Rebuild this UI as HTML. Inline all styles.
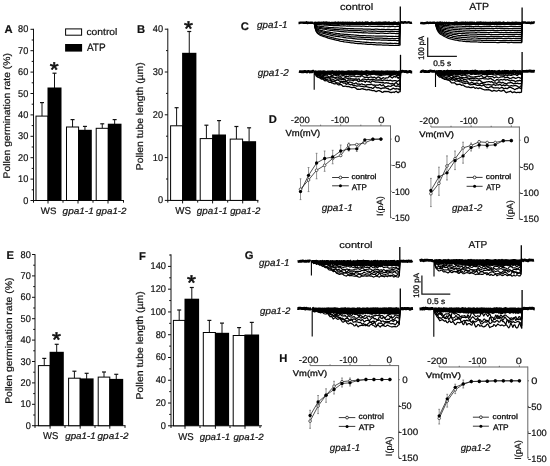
<!DOCTYPE html>
<html><head><meta charset="utf-8"><title>Figure</title>
<style>
html,body{margin:0;padding:0;background:#fff;}
svg{display:block;filter:blur(0.3px);}
text{font-family:"Liberation Sans", Arial, sans-serif;fill:#111;stroke:#111;stroke-width:0.2px;text-rendering:geometricPrecision;}
</style></head>
<body>
<svg width="550" height="466" viewBox="0 0 550 466">
<rect width="550" height="466" fill="#fff"/>
<line x1="33.5" y1="28.8" x2="33.5" y2="201" stroke="#111" stroke-width="1"/>
<line x1="30.5" y1="200.5" x2="33.5" y2="200.5" stroke="#111" stroke-width="1"/>
<text x="23.24" y="203.5" font-size="9.8" textLength="5.12" lengthAdjust="spacingAndGlyphs">0</text>
<line x1="30.5" y1="179.1" x2="33.5" y2="179.1" stroke="#111" stroke-width="1"/>
<text x="18.11" y="182.1" font-size="9.8" textLength="10.25" lengthAdjust="spacingAndGlyphs">10</text>
<line x1="30.5" y1="157.7" x2="33.5" y2="157.7" stroke="#111" stroke-width="1"/>
<text x="18.11" y="160.7" font-size="9.8" textLength="10.25" lengthAdjust="spacingAndGlyphs">20</text>
<line x1="30.5" y1="136.3" x2="33.5" y2="136.3" stroke="#111" stroke-width="1"/>
<text x="18.11" y="139.3" font-size="9.8" textLength="10.25" lengthAdjust="spacingAndGlyphs">30</text>
<line x1="30.5" y1="114.9" x2="33.5" y2="114.9" stroke="#111" stroke-width="1"/>
<text x="18.11" y="117.9" font-size="9.8" textLength="10.25" lengthAdjust="spacingAndGlyphs">40</text>
<line x1="30.5" y1="93.5" x2="33.5" y2="93.5" stroke="#111" stroke-width="1"/>
<text x="18.11" y="96.5" font-size="9.8" textLength="10.25" lengthAdjust="spacingAndGlyphs">50</text>
<line x1="30.5" y1="72.1" x2="33.5" y2="72.1" stroke="#111" stroke-width="1"/>
<text x="18.11" y="75.1" font-size="9.8" textLength="10.25" lengthAdjust="spacingAndGlyphs">60</text>
<line x1="30.5" y1="50.7" x2="33.5" y2="50.7" stroke="#111" stroke-width="1"/>
<text x="18.11" y="53.7" font-size="9.8" textLength="10.25" lengthAdjust="spacingAndGlyphs">70</text>
<line x1="30.5" y1="29.3" x2="33.5" y2="29.3" stroke="#111" stroke-width="1"/>
<text x="18.11" y="32.3" font-size="9.8" textLength="10.25" lengthAdjust="spacingAndGlyphs">80</text>
<line x1="31.7" y1="189.8" x2="33.5" y2="189.8" stroke="#111" stroke-width="1"/>
<line x1="31.7" y1="168.4" x2="33.5" y2="168.4" stroke="#111" stroke-width="1"/>
<line x1="31.7" y1="147" x2="33.5" y2="147" stroke="#111" stroke-width="1"/>
<line x1="31.7" y1="125.6" x2="33.5" y2="125.6" stroke="#111" stroke-width="1"/>
<line x1="31.7" y1="104.2" x2="33.5" y2="104.2" stroke="#111" stroke-width="1"/>
<line x1="31.7" y1="82.8" x2="33.5" y2="82.8" stroke="#111" stroke-width="1"/>
<line x1="31.7" y1="61.4" x2="33.5" y2="61.4" stroke="#111" stroke-width="1"/>
<line x1="31.7" y1="40" x2="33.5" y2="40" stroke="#111" stroke-width="1"/>
<line x1="33.5" y1="200.5" x2="124" y2="200.5" stroke="#111" stroke-width="1"/>
<line x1="48" y1="200.5" x2="48" y2="203.5" stroke="#111" stroke-width="1"/>
<line x1="78" y1="200.5" x2="78" y2="203.5" stroke="#111" stroke-width="1"/>
<line x1="108" y1="200.5" x2="108" y2="203.5" stroke="#111" stroke-width="1"/>
<line x1="63" y1="200.5" x2="63" y2="202.7" stroke="#111" stroke-width="1"/>
<line x1="93" y1="200.5" x2="93" y2="202.7" stroke="#111" stroke-width="1"/>
<line x1="123.5" y1="200.5" x2="123.5" y2="202.7" stroke="#111" stroke-width="1"/>
<line x1="33.5" y1="200.5" x2="33.5" y2="202.7" stroke="#111" stroke-width="1"/>
<line x1="42" y1="116.1" x2="42" y2="102.6" stroke="#111" stroke-width="1"/>
<line x1="40" y1="102.6" x2="44" y2="102.6" stroke="#111" stroke-width="1.2"/>
<rect x="36" y="116.1" width="12" height="84.4" fill="#fff" stroke="#000" stroke-width="1"/>
<line x1="54.5" y1="88" x2="54.5" y2="73.2" stroke="#111" stroke-width="1"/>
<line x1="52.5" y1="73.2" x2="56.5" y2="73.2" stroke="#111" stroke-width="1.2"/>
<rect x="47.5" y="87.5" width="14" height="113" fill="#000"/>
<line x1="72.55" y1="127" x2="72.55" y2="119.6" stroke="#111" stroke-width="1"/>
<line x1="70.55" y1="119.6" x2="74.55" y2="119.6" stroke="#111" stroke-width="1.2"/>
<rect x="66.5" y="127" width="12.1" height="73.5" fill="#fff" stroke="#000" stroke-width="1"/>
<line x1="84.95" y1="130.3" x2="84.95" y2="126.4" stroke="#111" stroke-width="1"/>
<line x1="82.95" y1="126.4" x2="86.95" y2="126.4" stroke="#111" stroke-width="1.2"/>
<rect x="78.1" y="129.8" width="13.7" height="70.7" fill="#000"/>
<line x1="102.25" y1="128.3" x2="102.25" y2="123.8" stroke="#111" stroke-width="1"/>
<line x1="100.25" y1="123.8" x2="104.25" y2="123.8" stroke="#111" stroke-width="1.2"/>
<rect x="96.2" y="128.3" width="12.1" height="72.2" fill="#fff" stroke="#000" stroke-width="1"/>
<line x1="114.65" y1="124.2" x2="114.65" y2="119.6" stroke="#111" stroke-width="1"/>
<line x1="112.65" y1="119.6" x2="116.65" y2="119.6" stroke="#111" stroke-width="1.2"/>
<rect x="107.8" y="123.7" width="13.7" height="76.8" fill="#000"/>
<text x="40.86" y="213.8" font-size="9.31" textLength="15.59" lengthAdjust="spacingAndGlyphs">WS</text>
<text x="62.58" y="213.8" font-size="9.16" font-style="italic" textLength="31.17" lengthAdjust="spacingAndGlyphs">gpa1-1</text>
<text x="96.08" y="213.8" font-size="9.02" font-style="italic" textLength="30.46" lengthAdjust="spacingAndGlyphs">gpa1-2</text>
<text transform="translate(10.3,177.6) rotate(-90)" x="-0.85" y="0" font-size="9.6" textLength="125.39" lengthAdjust="spacingAndGlyphs">Pollen germination rate (%)</text>
<text x="4.62" y="32.8" font-size="11.2" font-weight="bold" textLength="8.09" lengthAdjust="spacingAndGlyphs">A</text>
<text x="49.72" y="77.49" font-size="21.5" textLength="8.95" lengthAdjust="spacingAndGlyphs" style="stroke-width:0.55px">*</text>
<line x1="167.8" y1="28.6" x2="167.8" y2="200.9" stroke="#111" stroke-width="1"/>
<line x1="164.8" y1="200.4" x2="167.8" y2="200.4" stroke="#111" stroke-width="1"/>
<text x="157.94" y="203.4" font-size="9.8" textLength="5.12" lengthAdjust="spacingAndGlyphs">0</text>
<line x1="164.8" y1="157.6" x2="167.8" y2="157.6" stroke="#111" stroke-width="1"/>
<text x="152.81" y="160.6" font-size="9.8" textLength="10.25" lengthAdjust="spacingAndGlyphs">10</text>
<line x1="164.8" y1="114.8" x2="167.8" y2="114.8" stroke="#111" stroke-width="1"/>
<text x="152.81" y="117.8" font-size="9.8" textLength="10.25" lengthAdjust="spacingAndGlyphs">20</text>
<line x1="164.8" y1="72" x2="167.8" y2="72" stroke="#111" stroke-width="1"/>
<text x="152.81" y="75" font-size="9.8" textLength="10.25" lengthAdjust="spacingAndGlyphs">30</text>
<line x1="164.8" y1="29.2" x2="167.8" y2="29.2" stroke="#111" stroke-width="1"/>
<text x="152.81" y="32.2" font-size="9.8" textLength="10.25" lengthAdjust="spacingAndGlyphs">40</text>
<line x1="166" y1="179" x2="167.8" y2="179" stroke="#111" stroke-width="1"/>
<line x1="166" y1="136.2" x2="167.8" y2="136.2" stroke="#111" stroke-width="1"/>
<line x1="166" y1="93.4" x2="167.8" y2="93.4" stroke="#111" stroke-width="1"/>
<line x1="166" y1="50.6" x2="167.8" y2="50.6" stroke="#111" stroke-width="1"/>
<line x1="167.8" y1="200.4" x2="258.4" y2="200.4" stroke="#111" stroke-width="1"/>
<line x1="182.6" y1="200.4" x2="182.6" y2="203.4" stroke="#111" stroke-width="1"/>
<line x1="212.6" y1="200.4" x2="212.6" y2="203.4" stroke="#111" stroke-width="1"/>
<line x1="242.7" y1="200.4" x2="242.7" y2="203.4" stroke="#111" stroke-width="1"/>
<line x1="197.7" y1="200.4" x2="197.7" y2="202.6" stroke="#111" stroke-width="1"/>
<line x1="227.7" y1="200.4" x2="227.7" y2="202.6" stroke="#111" stroke-width="1"/>
<line x1="257.8" y1="200.4" x2="257.8" y2="202.6" stroke="#111" stroke-width="1"/>
<line x1="167.8" y1="200.4" x2="167.8" y2="202.6" stroke="#111" stroke-width="1"/>
<line x1="176.6" y1="125.8" x2="176.6" y2="107.7" stroke="#111" stroke-width="1"/>
<line x1="174.6" y1="107.7" x2="178.6" y2="107.7" stroke="#111" stroke-width="1.2"/>
<rect x="170.6" y="125.8" width="12" height="74.6" fill="#fff" stroke="#000" stroke-width="1"/>
<line x1="189.25" y1="53.3" x2="189.25" y2="31.5" stroke="#111" stroke-width="1"/>
<line x1="187.25" y1="31.5" x2="191.25" y2="31.5" stroke="#111" stroke-width="1.2"/>
<rect x="182.1" y="52.8" width="14.3" height="147.6" fill="#000"/>
<line x1="206.4" y1="138.6" x2="206.4" y2="125.2" stroke="#111" stroke-width="1"/>
<line x1="204.4" y1="125.2" x2="208.4" y2="125.2" stroke="#111" stroke-width="1.2"/>
<rect x="200.2" y="138.6" width="12.4" height="61.8" fill="#fff" stroke="#000" stroke-width="1"/>
<line x1="219.05" y1="135" x2="219.05" y2="120.6" stroke="#111" stroke-width="1"/>
<line x1="217.05" y1="120.6" x2="221.05" y2="120.6" stroke="#111" stroke-width="1.2"/>
<rect x="212.1" y="134.5" width="13.9" height="65.9" fill="#000"/>
<line x1="236.4" y1="139.1" x2="236.4" y2="126.5" stroke="#111" stroke-width="1"/>
<line x1="234.4" y1="126.5" x2="238.4" y2="126.5" stroke="#111" stroke-width="1.2"/>
<rect x="230.2" y="139.1" width="12.4" height="61.3" fill="#fff" stroke="#000" stroke-width="1"/>
<line x1="249.1" y1="141.7" x2="249.1" y2="127.8" stroke="#111" stroke-width="1"/>
<line x1="247.1" y1="127.8" x2="251.1" y2="127.8" stroke="#111" stroke-width="1.2"/>
<rect x="242.1" y="141.2" width="14" height="59.2" fill="#000"/>
<text x="175.16" y="213.6" font-size="10.17" textLength="15.79" lengthAdjust="spacingAndGlyphs">WS</text>
<text x="196.88" y="213.5" font-size="9.59" font-style="italic" textLength="30.65" lengthAdjust="spacingAndGlyphs">gpa1-1</text>
<text x="230.18" y="213.5" font-size="9.45" font-style="italic" textLength="30.16" lengthAdjust="spacingAndGlyphs">gpa1-2</text>
<text transform="translate(143.2,169.3) rotate(-90)" x="-0.85" y="0" font-size="9.8" textLength="107.9" lengthAdjust="spacingAndGlyphs">Pollen tube length (µm)</text>
<text x="136.95" y="32.7" font-size="11.2" font-weight="bold" textLength="8.09" lengthAdjust="spacingAndGlyphs">B</text>
<text x="184.12" y="36.39" font-size="21.5" textLength="8.95" lengthAdjust="spacingAndGlyphs" style="stroke-width:0.55px">*</text>
<line x1="35" y1="254.2" x2="35" y2="426.2" stroke="#111" stroke-width="1"/>
<line x1="32" y1="425.7" x2="35" y2="425.7" stroke="#111" stroke-width="1"/>
<text x="25.74" y="428.7" font-size="9.8" textLength="5.12" lengthAdjust="spacingAndGlyphs">0</text>
<line x1="32" y1="404.3" x2="35" y2="404.3" stroke="#111" stroke-width="1"/>
<text x="20.61" y="407.3" font-size="9.8" textLength="10.25" lengthAdjust="spacingAndGlyphs">10</text>
<line x1="32" y1="382.9" x2="35" y2="382.9" stroke="#111" stroke-width="1"/>
<text x="20.61" y="385.9" font-size="9.8" textLength="10.25" lengthAdjust="spacingAndGlyphs">20</text>
<line x1="32" y1="361.5" x2="35" y2="361.5" stroke="#111" stroke-width="1"/>
<text x="20.61" y="364.5" font-size="9.8" textLength="10.25" lengthAdjust="spacingAndGlyphs">30</text>
<line x1="32" y1="340.1" x2="35" y2="340.1" stroke="#111" stroke-width="1"/>
<text x="20.61" y="343.1" font-size="9.8" textLength="10.25" lengthAdjust="spacingAndGlyphs">40</text>
<line x1="32" y1="318.7" x2="35" y2="318.7" stroke="#111" stroke-width="1"/>
<text x="20.61" y="321.7" font-size="9.8" textLength="10.25" lengthAdjust="spacingAndGlyphs">50</text>
<line x1="32" y1="297.3" x2="35" y2="297.3" stroke="#111" stroke-width="1"/>
<text x="20.61" y="300.3" font-size="9.8" textLength="10.25" lengthAdjust="spacingAndGlyphs">60</text>
<line x1="32" y1="275.9" x2="35" y2="275.9" stroke="#111" stroke-width="1"/>
<text x="20.61" y="278.9" font-size="9.8" textLength="10.25" lengthAdjust="spacingAndGlyphs">70</text>
<line x1="32" y1="254.5" x2="35" y2="254.5" stroke="#111" stroke-width="1"/>
<text x="20.61" y="257.5" font-size="9.8" textLength="10.25" lengthAdjust="spacingAndGlyphs">80</text>
<line x1="33.2" y1="415" x2="35" y2="415" stroke="#111" stroke-width="1"/>
<line x1="33.2" y1="393.6" x2="35" y2="393.6" stroke="#111" stroke-width="1"/>
<line x1="33.2" y1="372.2" x2="35" y2="372.2" stroke="#111" stroke-width="1"/>
<line x1="33.2" y1="350.8" x2="35" y2="350.8" stroke="#111" stroke-width="1"/>
<line x1="33.2" y1="329.4" x2="35" y2="329.4" stroke="#111" stroke-width="1"/>
<line x1="33.2" y1="308" x2="35" y2="308" stroke="#111" stroke-width="1"/>
<line x1="33.2" y1="286.6" x2="35" y2="286.6" stroke="#111" stroke-width="1"/>
<line x1="33.2" y1="265.2" x2="35" y2="265.2" stroke="#111" stroke-width="1"/>
<line x1="35" y1="425.7" x2="125.5" y2="425.7" stroke="#111" stroke-width="1"/>
<line x1="50.1" y1="425.7" x2="50.1" y2="428.7" stroke="#111" stroke-width="1"/>
<line x1="80.2" y1="425.7" x2="80.2" y2="428.7" stroke="#111" stroke-width="1"/>
<line x1="109.8" y1="425.7" x2="109.8" y2="428.7" stroke="#111" stroke-width="1"/>
<line x1="65" y1="425.7" x2="65" y2="427.9" stroke="#111" stroke-width="1"/>
<line x1="95" y1="425.7" x2="95" y2="427.9" stroke="#111" stroke-width="1"/>
<line x1="125" y1="425.7" x2="125" y2="427.9" stroke="#111" stroke-width="1"/>
<line x1="35" y1="425.7" x2="35" y2="427.9" stroke="#111" stroke-width="1"/>
<line x1="44.25" y1="365.6" x2="44.25" y2="358.4" stroke="#111" stroke-width="1"/>
<line x1="42.25" y1="358.4" x2="46.25" y2="358.4" stroke="#111" stroke-width="1.2"/>
<rect x="38.4" y="365.6" width="11.7" height="60.1" fill="#fff" stroke="#000" stroke-width="1"/>
<line x1="56.7" y1="352.3" x2="56.7" y2="344.3" stroke="#111" stroke-width="1"/>
<line x1="54.7" y1="344.3" x2="58.7" y2="344.3" stroke="#111" stroke-width="1.2"/>
<rect x="49.6" y="351.8" width="14.2" height="73.9" fill="#000"/>
<line x1="74.4" y1="378.2" x2="74.4" y2="371.2" stroke="#111" stroke-width="1"/>
<line x1="72.4" y1="371.2" x2="76.4" y2="371.2" stroke="#111" stroke-width="1.2"/>
<rect x="68.6" y="378.2" width="11.6" height="47.5" fill="#fff" stroke="#000" stroke-width="1"/>
<line x1="86.65" y1="378.9" x2="86.65" y2="373.3" stroke="#111" stroke-width="1"/>
<line x1="84.65" y1="373.3" x2="88.65" y2="373.3" stroke="#111" stroke-width="1.2"/>
<rect x="79.7" y="378.4" width="13.9" height="47.3" fill="#000"/>
<line x1="104" y1="377.1" x2="104" y2="372" stroke="#111" stroke-width="1"/>
<line x1="102" y1="372" x2="106" y2="372" stroke="#111" stroke-width="1.2"/>
<rect x="98.2" y="377.1" width="11.6" height="48.6" fill="#fff" stroke="#000" stroke-width="1"/>
<line x1="116.25" y1="379.4" x2="116.25" y2="374.3" stroke="#111" stroke-width="1"/>
<line x1="114.25" y1="374.3" x2="118.25" y2="374.3" stroke="#111" stroke-width="1.2"/>
<rect x="109.3" y="378.9" width="13.9" height="46.8" fill="#000"/>
<text x="42.96" y="439.3" font-size="9.88" textLength="15.28" lengthAdjust="spacingAndGlyphs">WS</text>
<text x="65.28" y="439.3" font-size="9.3" font-style="italic" textLength="30.34" lengthAdjust="spacingAndGlyphs">gpa1-1</text>
<text x="97.58" y="439.3" font-size="9.17" font-style="italic" textLength="30.97" lengthAdjust="spacingAndGlyphs">gpa1-2</text>
<text transform="translate(12.4,403) rotate(-90)" x="-0.86" y="0" font-size="9.6" textLength="126.3" lengthAdjust="spacingAndGlyphs">Pollen germination rate (%)</text>
<text x="6.45" y="258.7" font-size="11.2" font-weight="bold" textLength="7.47" lengthAdjust="spacingAndGlyphs">E</text>
<text x="52.02" y="347.29" font-size="21.5" textLength="8.95" lengthAdjust="spacingAndGlyphs" style="stroke-width:0.55px">*</text>
<line x1="171" y1="254.3" x2="171" y2="426.3" stroke="#111" stroke-width="1"/>
<line x1="168" y1="425.8" x2="171" y2="425.8" stroke="#111" stroke-width="1"/>
<text x="160.84" y="428.8" font-size="9.8" textLength="5.12" lengthAdjust="spacingAndGlyphs">0</text>
<line x1="168" y1="403.03" x2="171" y2="403.03" stroke="#111" stroke-width="1"/>
<text x="155.71" y="406.03" font-size="9.8" textLength="10.25" lengthAdjust="spacingAndGlyphs">20</text>
<line x1="168" y1="380.26" x2="171" y2="380.26" stroke="#111" stroke-width="1"/>
<text x="155.71" y="383.26" font-size="9.8" textLength="10.25" lengthAdjust="spacingAndGlyphs">40</text>
<line x1="168" y1="357.49" x2="171" y2="357.49" stroke="#111" stroke-width="1"/>
<text x="155.71" y="360.49" font-size="9.8" textLength="10.25" lengthAdjust="spacingAndGlyphs">60</text>
<line x1="168" y1="334.72" x2="171" y2="334.72" stroke="#111" stroke-width="1"/>
<text x="155.71" y="337.72" font-size="9.8" textLength="10.25" lengthAdjust="spacingAndGlyphs">80</text>
<line x1="168" y1="311.95" x2="171" y2="311.95" stroke="#111" stroke-width="1"/>
<text x="150.59" y="314.95" font-size="9.8" textLength="15.37" lengthAdjust="spacingAndGlyphs">100</text>
<line x1="168" y1="289.18" x2="171" y2="289.18" stroke="#111" stroke-width="1"/>
<text x="150.59" y="292.18" font-size="9.8" textLength="15.37" lengthAdjust="spacingAndGlyphs">120</text>
<line x1="168" y1="266.41" x2="171" y2="266.41" stroke="#111" stroke-width="1"/>
<text x="150.59" y="269.41" font-size="9.8" textLength="15.37" lengthAdjust="spacingAndGlyphs">140</text>
<line x1="169.2" y1="414.42" x2="171" y2="414.42" stroke="#111" stroke-width="1"/>
<line x1="169.2" y1="391.64" x2="171" y2="391.64" stroke="#111" stroke-width="1"/>
<line x1="169.2" y1="368.88" x2="171" y2="368.88" stroke="#111" stroke-width="1"/>
<line x1="169.2" y1="346.11" x2="171" y2="346.11" stroke="#111" stroke-width="1"/>
<line x1="169.2" y1="323.34" x2="171" y2="323.34" stroke="#111" stroke-width="1"/>
<line x1="169.2" y1="300.56" x2="171" y2="300.56" stroke="#111" stroke-width="1"/>
<line x1="169.2" y1="277.8" x2="171" y2="277.8" stroke="#111" stroke-width="1"/>
<line x1="169.2" y1="255.03" x2="171" y2="255.03" stroke="#111" stroke-width="1"/>
<line x1="171" y1="425.8" x2="262" y2="425.8" stroke="#111" stroke-width="1"/>
<line x1="185" y1="425.8" x2="185" y2="428.8" stroke="#111" stroke-width="1"/>
<line x1="215.4" y1="425.8" x2="215.4" y2="428.8" stroke="#111" stroke-width="1"/>
<line x1="245" y1="425.8" x2="245" y2="428.8" stroke="#111" stroke-width="1"/>
<line x1="200" y1="425.8" x2="200" y2="428" stroke="#111" stroke-width="1"/>
<line x1="230" y1="425.8" x2="230" y2="428" stroke="#111" stroke-width="1"/>
<line x1="260" y1="425.8" x2="260" y2="428" stroke="#111" stroke-width="1"/>
<line x1="171" y1="425.8" x2="171" y2="428" stroke="#111" stroke-width="1"/>
<line x1="179.2" y1="320.4" x2="179.2" y2="310" stroke="#111" stroke-width="1"/>
<line x1="177.2" y1="310" x2="181.2" y2="310" stroke="#111" stroke-width="1.2"/>
<rect x="173.4" y="320.4" width="11.6" height="105.4" fill="#fff" stroke="#000" stroke-width="1"/>
<line x1="191.8" y1="299.2" x2="191.8" y2="287.5" stroke="#111" stroke-width="1"/>
<line x1="189.8" y1="287.5" x2="193.8" y2="287.5" stroke="#111" stroke-width="1.2"/>
<rect x="184.5" y="298.7" width="14.6" height="127.1" fill="#000"/>
<line x1="209.35" y1="332.5" x2="209.35" y2="320.4" stroke="#111" stroke-width="1"/>
<line x1="207.35" y1="320.4" x2="211.35" y2="320.4" stroke="#111" stroke-width="1.2"/>
<rect x="203.3" y="332.5" width="12.1" height="93.3" fill="#fff" stroke="#000" stroke-width="1"/>
<line x1="222" y1="333.3" x2="222" y2="323.1" stroke="#111" stroke-width="1"/>
<line x1="220" y1="323.1" x2="224" y2="323.1" stroke="#111" stroke-width="1.2"/>
<rect x="214.9" y="332.8" width="14.2" height="93" fill="#000"/>
<line x1="239.1" y1="335.5" x2="239.1" y2="327.6" stroke="#111" stroke-width="1"/>
<line x1="237.1" y1="327.6" x2="241.1" y2="327.6" stroke="#111" stroke-width="1.2"/>
<rect x="233.2" y="335.5" width="11.8" height="90.3" fill="#fff" stroke="#000" stroke-width="1"/>
<line x1="251.8" y1="335" x2="251.8" y2="322.4" stroke="#111" stroke-width="1"/>
<line x1="249.8" y1="322.4" x2="253.8" y2="322.4" stroke="#111" stroke-width="1.2"/>
<rect x="244.5" y="334.5" width="14.6" height="91.3" fill="#000"/>
<text x="178.26" y="439.5" font-size="9.88" textLength="15.48" lengthAdjust="spacingAndGlyphs">WS</text>
<text x="199.78" y="439.5" font-size="9.45" font-style="italic" textLength="30.34" lengthAdjust="spacingAndGlyphs">gpa1-1</text>
<text x="233.48" y="439.6" font-size="9.02" font-style="italic" textLength="30.26" lengthAdjust="spacingAndGlyphs">gpa1-2</text>
<text transform="translate(142.8,398.6) rotate(-90)" x="-0.86" y="0" font-size="9.8" textLength="108.1" lengthAdjust="spacingAndGlyphs">Pollen tube length (µm)</text>
<text x="138.95" y="259.5" font-size="11.2" font-weight="bold" textLength="6.84" lengthAdjust="spacingAndGlyphs">F</text>
<text x="187.12" y="289.89" font-size="21.5" textLength="8.95" lengthAdjust="spacingAndGlyphs" style="stroke-width:0.55px">*</text>
<rect x="65.6" y="28.9" width="16" height="6.3" fill="#fff" stroke="#000" stroke-width="1"/>
<rect x="65.1" y="44" width="17" height="7.6" fill="#000"/>
<text x="86.46" y="34.8" font-size="9.52" textLength="30.93" lengthAdjust="spacingAndGlyphs">control</text>
<text x="86.88" y="50.8" font-size="10.76" textLength="18.73" lengthAdjust="spacingAndGlyphs">ATP</text>
<path d="M298.5,23 299.5,23 300.5,22.6 301.5,22.6 302.5,22.6 303.5,22.8 304.5,22.7 305.5,22.9 306.5,22.2 307.5,23.1 308.5,22.7 309.5,22.9 310.5,22.7 311.5,22.6 312.5,22.8 313.5,22.9" fill="none" stroke="#000" stroke-width="2.4" stroke-linejoin="round"/>
<path d="M400,22.9 401,22.5 402,22.3 403,22.8 404,22.5 405,22.2 406,22.5 407,22.6 408,22.4 409,22.3 410,22.7 411,22.9 412,22.6" fill="none" stroke="#000" stroke-width="2.4" stroke-linejoin="round"/>
<path d="M314.2,21.7 315.2,21.5 316.2,21.7 317.2,21.8 318.2,21.6 319.2,21.4 320.2,21.7 321.2,21.6 322.2,21.8 323.2,21.3 324.2,21.5 325.2,21.4 326.2,21.3 327.2,21.6 328.2,21.7 329.2,21.5 330.2,21.9 331.2,21.8 332.2,21.7 333.2,21.7 334.2,21.8 335.2,21.3 336.2,21.7 337.2,21.7 338.2,21.2 339.2,21.7 340.2,21.5 341.2,21.8 342.2,21.5 343.2,21.6 344.2,21.7 345.2,21.4 346.2,21.7 347.2,21.6 348.2,21.7 349.2,21.5 350.2,21.8 351.2,21.7 352.2,21.6 353.2,21.7 354.2,21.9 355.2,22 356.2,21.3 357.2,21.8 358.2,21.7 359.2,21.6 360.2,21.4 361.2,21.9 362.2,21.3 363.2,21.7 364.2,21.9 365.2,21.3 366.2,21.5 367.2,21.3 368.2,21.6 369.2,21.9 370.2,22 371.2,21.2 372.2,21.5 373.2,21.7 374.2,21.9 375.2,21.7 376.2,21.5 377.2,21.7 378.2,21.6 379.2,21.6 380.2,21.5 381.2,21.7 382.2,21.7 383.2,21.6 384.2,21.6 385.2,21.3 386.2,21.5 387.2,21.8 388.2,21.6 389.2,21.3 390.2,21.9 391.2,21.7 392.2,22 393.2,21.6 394.2,21.5 395.2,21.3 396.2,21.9 397.2,22.1 398.2,21.4 399.2,21.5 399.2,24.9 398.2,25.1 397.2,24.9 396.2,25 395.2,25.1 394.2,24.9 393.2,24.3 392.2,25 391.2,25 390.2,24.3 389.2,25.4 388.2,24.3 387.2,24.8 386.2,24.4 385.2,24.8 384.2,25.3 383.2,24.5 382.2,24.4 381.2,24.6 380.2,24.9 379.2,24.6 378.2,24.7 377.2,24.5 376.2,24.5 375.2,25.1 374.2,24.3 373.2,25 372.2,24.8 371.2,24.9 370.2,24.6 369.2,24.7 368.2,24.6 367.2,24.8 366.2,24.9 365.2,24.9 364.2,25.1 363.2,25 362.2,24.6 361.2,24.8 360.2,24.5 359.2,24.7 358.2,24.3 357.2,24.9 356.2,24.9 355.2,25 354.2,25 353.2,25 352.2,24.9 351.2,24.5 350.2,25.5 349.2,25.4 348.2,25.1 347.2,25.5 346.2,24.5 345.2,24.6 344.2,25 343.2,25.2 342.2,24.9 341.2,24.8 340.2,24.1 339.2,24.7 338.2,24.9 337.2,24.8 336.2,24.6 335.2,24.4 334.2,24.6 333.2,24.5 332.2,24.6 331.2,24.8 330.2,25.2 329.2,25.1 328.2,25.3 327.2,25 326.2,25 325.2,24.6 324.2,25.1 323.2,24.3 322.2,24.1 321.2,24.9 320.2,24.7 319.2,25.1 318.2,24.8 317.2,25.2 316.2,24.9 315.2,24.7 314.2,24.7Z" fill="#000"/>
<line x1="314.2" y1="22.7" x2="314.2" y2="24.5" stroke="#000" stroke-width="1.1"/>
<line x1="400.3" y1="22.7" x2="400.3" y2="6.5" stroke="#000" stroke-width="1.3"/>
<path d="M314.2,22.7 315.2,23.1 316.2,23.3 317.2,23.6 318.2,23.7 319.2,23.7 320.2,23.7 321.2,23.7 322.2,23.7 323.2,23.8 324.2,23.7 325.2,23.8 326.2,23.7 327.2,23.8 328.2,23.8 329.2,23.8 330.2,23.8 331.2,23.9 332.2,24.1 333.2,24.1 334.2,24.2 335.2,24.1 336.2,24 337.2,24 338.2,24.1 339.2,24.1 340.2,24.2 341.2,24.2 342.2,24.2 343.2,24.1 344.2,24.1 345.2,24.1 346.2,24.2 347.2,24.3 348.2,24.3 349.2,24.4 350.2,24.4 351.2,24.3 352.2,24.4 353.2,24.4 354.2,24.4 355.2,24.4 356.2,24.4 357.2,24.5 358.2,24.4 359.2,24.4 360.2,24.4 361.2,24.5 362.2,24.4 363.2,24.4 364.2,24.4 365.2,24.4 366.2,24.4 367.2,24.4 368.2,24.4 369.2,24.4 370.2,24.4 371.2,24.4 372.2,24.4 373.2,24.4 374.2,24.3 375.2,24.3 376.2,24.4 377.2,24.5 378.2,24.5 379.2,24.5 380.2,24.5 381.2,24.5 382.2,24.5 383.2,24.5 384.2,24.5 385.2,24.5 386.2,24.4 387.2,24.5 388.2,24.5 389.2,24.5 390.2,24.5 391.2,24.5 392.2,24.5 393.2,24.5 394.2,24.5 395.2,24.4 396.2,24.5 397.2,24.5 398.2,24.5 399.2,24.4 400.3,22.7" fill="none" stroke="#000" stroke-width="1.25" stroke-linejoin="round"/>
<path d="M314.2,22.7 315.2,23.6 316.2,24.2 317.2,24.3 318.2,24.5 319.2,24.6 320.2,24.7 321.2,24.9 322.2,24.9 323.2,25 324.2,25.1 325.2,25.2 326.2,25.2 327.2,25.1 328.2,25.2 329.2,25.3 330.2,25.4 331.2,25.4 332.2,25.4 333.2,25.6 334.2,25.7 335.2,25.6 336.2,25.5 337.2,25.5 338.2,25.7 339.2,25.7 340.2,25.8 341.2,25.9 342.2,26 343.2,25.9 344.2,25.9 345.2,25.9 346.2,26 347.2,26 348.2,26 349.2,26.1 350.2,26.1 351.2,26.1 352.2,26 353.2,26 354.2,26 355.2,26 356.2,26 357.2,26.1 358.2,26.2 359.2,26.2 360.2,26.2 361.2,26.3 362.2,26.2 363.2,26.1 364.2,26.2 365.2,26.3 366.2,26.4 367.2,26.5 368.2,26.4 369.2,26.2 370.2,26.2 371.2,26.3 372.2,26.4 373.2,26.4 374.2,26.4 375.2,26.3 376.2,26.3 377.2,26.3 378.2,26.4 379.2,26.4 380.2,26.4 381.2,26.4 382.2,26.4 383.2,26.5 384.2,26.5 385.2,26.5 386.2,26.4 387.2,26.5 388.2,26.5 389.2,26.6 390.2,26.5 391.2,26.5 392.2,26.4 393.2,26.4 394.2,26.5 395.2,26.5 396.2,26.5 397.2,26.4 398.2,26.4 399.2,26.5 400.3,22.7" fill="none" stroke="#000" stroke-width="1.25" stroke-linejoin="round"/>
<path d="M314.2,22.7 315.2,24.6 316.2,25.4 317.2,25.8 318.2,26 319.2,26.2 320.2,26.4 321.2,26.5 322.2,26.6 323.2,26.7 324.2,26.9 325.2,27 326.2,27.1 327.2,27.2 328.2,27.3 329.2,27.5 330.2,27.6 331.2,27.6 332.2,27.6 333.2,27.7 334.2,27.8 335.2,27.9 336.2,27.9 337.2,27.9 338.2,27.9 339.2,28 340.2,28.1 341.2,28.1 342.2,28.2 343.2,28.3 344.2,28.3 345.2,28.4 346.2,28.5 347.2,28.6 348.2,28.7 349.2,28.6 350.2,28.7 351.2,28.6 352.2,28.6 353.2,28.7 354.2,28.8 355.2,28.9 356.2,28.8 357.2,28.8 358.2,28.8 359.2,28.9 360.2,28.9 361.2,28.9 362.2,28.9 363.2,29.1 364.2,29.2 365.2,29.2 366.2,29.1 367.2,29.1 368.2,29.1 369.2,29.2 370.2,29.2 371.2,29.3 372.2,29.3 373.2,29.3 374.2,29.3 375.2,29.2 376.2,29.2 377.2,29.2 378.2,29.4 379.2,29.4 380.2,29.5 381.2,29.4 382.2,29.3 383.2,29.3 384.2,29.4 385.2,29.5 386.2,29.5 387.2,29.4 388.2,29.4 389.2,29.4 390.2,29.5 391.2,29.5 392.2,29.5 393.2,29.5 394.2,29.4 395.2,29.4 396.2,29.5 397.2,29.5 398.2,29.5 399.2,29.5 400.3,22.7" fill="none" stroke="#000" stroke-width="1.25" stroke-linejoin="round"/>
<path d="M314.2,22.7 315.2,25 316.2,26.1 317.2,26.7 318.2,27 319.2,27.3 320.2,27.5 321.2,27.6 322.2,27.8 323.2,28 324.2,28.2 325.2,28.3 326.2,28.3 327.2,28.4 328.2,28.5 329.2,28.7 330.2,28.8 331.2,29 332.2,29.1 333.2,29.2 334.2,29.3 335.2,29.4 336.2,29.5 337.2,29.5 338.2,29.6 339.2,29.7 340.2,29.8 341.2,29.8 342.2,29.9 343.2,29.9 344.2,30.1 345.2,30 346.2,30.1 347.2,30.2 348.2,30.4 349.2,30.5 350.2,30.4 351.2,30.4 352.2,30.4 353.2,30.4 354.2,30.6 355.2,30.6 356.2,30.7 357.2,30.7 358.2,30.7 359.2,30.7 360.2,30.7 361.2,30.8 362.2,30.9 363.2,31 364.2,31 365.2,31 366.2,31 367.2,30.9 368.2,31 369.2,31 370.2,31.1 371.2,31.2 372.2,31.3 373.2,31.2 374.2,31.2 375.2,31.2 376.2,31.2 377.2,31.3 378.2,31.3 379.2,31.3 380.2,31.3 381.2,31.3 382.2,31.3 383.2,31.4 384.2,31.4 385.2,31.4 386.2,31.3 387.2,31.3 388.2,31.3 389.2,31.3 390.2,31.3 391.2,31.3 392.2,31.3 393.2,31.4 394.2,31.4 395.2,31.4 396.2,31.5 397.2,31.5 398.2,31.6 399.2,31.6 400.3,22.7" fill="none" stroke="#000" stroke-width="1.25" stroke-linejoin="round"/>
<path d="M314.2,22.7 315.2,25.5 316.2,26.8 317.2,27.6 318.2,28.1 319.2,28.4 320.2,28.5 321.2,28.7 322.2,28.8 323.2,29.1 324.2,29.2 325.2,29.3 326.2,29.5 327.2,29.8 328.2,30 329.2,30.2 330.2,30.3 331.2,30.4 332.2,30.5 333.2,30.7 334.2,30.8 335.2,30.9 336.2,31 337.2,31.1 338.2,31.2 339.2,31.4 340.2,31.5 341.2,31.6 342.2,31.6 343.2,31.7 344.2,31.8 345.2,31.8 346.2,31.9 347.2,32 348.2,32.1 349.2,32.2 350.2,32.2 351.2,32.1 352.2,32.2 353.2,32.2 354.2,32.4 355.2,32.3 356.2,32.4 357.2,32.4 358.2,32.6 359.2,32.6 360.2,32.7 361.2,32.6 362.2,32.8 363.2,32.7 364.2,32.8 365.2,32.8 366.2,32.9 367.2,32.9 368.2,33 369.2,33 370.2,33 371.2,33 372.2,33 373.2,33.1 374.2,33.1 375.2,33.1 376.2,33.3 377.2,33.3 378.2,33.3 379.2,33.3 380.2,33.2 381.2,33.2 382.2,33.1 383.2,33.2 384.2,33.3 385.2,33.4 386.2,33.5 387.2,33.4 388.2,33.3 389.2,33.2 390.2,33.2 391.2,33.4 392.2,33.4 393.2,33.4 394.2,33.4 395.2,33.5 396.2,33.5 397.2,33.5 398.2,33.5 399.2,33.5 400.3,22.7" fill="none" stroke="#000" stroke-width="1.25" stroke-linejoin="round"/>
<path d="M314.2,22.7 315.2,26.2 316.2,27.9 317.2,28.9 318.2,29.4 319.2,29.9 320.2,30.1 321.2,30.5 322.2,30.7 323.2,31 324.2,31.2 325.2,31.5 326.2,31.7 327.2,31.8 328.2,31.9 329.2,32.1 330.2,32.3 331.2,32.5 332.2,32.7 333.2,32.9 334.2,33 335.2,33.1 336.2,33.3 337.2,33.5 338.2,33.6 339.2,33.7 340.2,33.9 341.2,34 342.2,34.1 343.2,34.2 344.2,34.3 345.2,34.3 346.2,34.4 347.2,34.4 348.2,34.6 349.2,34.6 350.2,34.7 351.2,34.8 352.2,34.8 353.2,34.9 354.2,35 355.2,35.1 356.2,35.2 357.2,35.3 358.2,35.3 359.2,35.5 360.2,35.5 361.2,35.6 362.2,35.5 363.2,35.5 364.2,35.6 365.2,35.7 366.2,35.8 367.2,35.8 368.2,35.9 369.2,35.9 370.2,35.9 371.2,35.9 372.2,36 373.2,35.9 374.2,36 375.2,36.1 376.2,36.1 377.2,36 378.2,36 379.2,36.1 380.2,36.1 381.2,36.1 382.2,36.2 383.2,36.2 384.2,36.2 385.2,36.2 386.2,36.2 387.2,36.3 388.2,36.3 389.2,36.4 390.2,36.3 391.2,36.3 392.2,36.4 393.2,36.4 394.2,36.5 395.2,36.4 396.2,36.4 397.2,36.5 398.2,36.4 399.2,36.5 400.3,22.7" fill="none" stroke="#000" stroke-width="1.25" stroke-linejoin="round"/>
<path d="M314.2,22.7 315.2,26.7 316.2,28.8 317.2,29.9 318.2,30.5 319.2,30.9 320.2,31.2 321.2,31.5 322.2,31.9 323.2,32.2 324.2,32.4 325.2,32.6 326.2,32.7 327.2,32.9 328.2,33.2 329.2,33.4 330.2,33.6 331.2,33.9 332.2,34 333.2,34.3 334.2,34.5 335.2,34.7 336.2,34.8 337.2,35 338.2,35.1 339.2,35.2 340.2,35.2 341.2,35.5 342.2,35.6 343.2,35.8 344.2,35.8 345.2,36 346.2,36.1 347.2,36.2 348.2,36.2 349.2,36.4 350.2,36.6 351.2,36.8 352.2,36.8 353.2,36.8 354.2,36.8 355.2,36.9 356.2,36.9 357.2,37 358.2,37 359.2,37.1 360.2,37.2 361.2,37.3 362.2,37.4 363.2,37.4 364.2,37.5 365.2,37.5 366.2,37.6 367.2,37.6 368.2,37.6 369.2,37.6 370.2,37.7 371.2,37.9 372.2,37.9 373.2,37.9 374.2,38 375.2,38 376.2,38 377.2,38 378.2,38 379.2,38.1 380.2,38 381.2,38.1 382.2,38.2 383.2,38.3 384.2,38.3 385.2,38.3 386.2,38.4 387.2,38.4 388.2,38.5 389.2,38.5 390.2,38.5 391.2,38.5 392.2,38.4 393.2,38.5 394.2,38.5 395.2,38.5 396.2,38.5 397.2,38.4 398.2,38.5 399.2,38.5 400.3,22.7" fill="none" stroke="#000" stroke-width="1.25" stroke-linejoin="round"/>
<path d="M314.2,22.7 315.2,27.3 316.2,29.6 317.2,30.7 318.2,31.5 319.2,32.1 320.2,32.5 321.2,32.8 322.2,33 323.2,33.4 324.2,33.6 325.2,33.9 326.2,34.2 327.2,34.4 328.2,34.7 329.2,35 330.2,35.2 331.2,35.4 332.2,35.6 333.2,35.8 334.2,36 335.2,36.2 336.2,36.4 337.2,36.5 338.2,36.6 339.2,36.7 340.2,36.9 341.2,37 342.2,37.2 343.2,37.3 344.2,37.6 345.2,37.7 346.2,37.9 347.2,38 348.2,38.1 349.2,38.1 350.2,38.1 351.2,38.2 352.2,38.5 353.2,38.7 354.2,38.7 355.2,38.8 356.2,38.9 357.2,39.1 358.2,39.1 359.2,39.2 360.2,39.2 361.2,39.2 362.2,39.2 363.2,39.2 364.2,39.3 365.2,39.4 366.2,39.5 367.2,39.5 368.2,39.6 369.2,39.6 370.2,39.6 371.2,39.8 372.2,39.7 373.2,39.8 374.2,39.8 375.2,39.9 376.2,39.9 377.2,39.8 378.2,39.8 379.2,39.9 380.2,40 381.2,40.1 382.2,40 383.2,40 384.2,40 385.2,40.1 386.2,40.2 387.2,40.2 388.2,40.3 389.2,40.4 390.2,40.4 391.2,40.3 392.2,40.3 393.2,40.3 394.2,40.4 395.2,40.4 396.2,40.5 397.2,40.5 398.2,40.5 399.2,40.6 400.3,22.7" fill="none" stroke="#000" stroke-width="1.25" stroke-linejoin="round"/>
<path d="M314.2,22.7 315.2,28.1 316.2,30.8 317.2,32.2 318.2,33.1 319.2,33.6 320.2,34 321.2,34.4 322.2,34.8 323.2,35.2 324.2,35.5 325.2,35.8 326.2,36.1 327.2,36.4 328.2,36.7 329.2,36.9 330.2,37.2 331.2,37.4 332.2,37.7 333.2,37.8 334.2,38.2 335.2,38.4 336.2,38.7 337.2,38.9 338.2,39.1 339.2,39.3 340.2,39.4 341.2,39.5 342.2,39.7 343.2,39.9 344.2,40.1 345.2,40.2 346.2,40.2 347.2,40.3 348.2,40.5 349.2,40.7 350.2,40.9 351.2,40.9 352.2,40.9 353.2,41 354.2,41.2 355.2,41.3 356.2,41.5 357.2,41.6 358.2,41.6 359.2,41.7 360.2,41.8 361.2,41.9 362.2,42 363.2,42.2 364.2,42.2 365.2,42.3 366.2,42.2 367.2,42.3 368.2,42.4 369.2,42.5 370.2,42.6 371.2,42.6 372.2,42.6 373.2,42.6 374.2,42.5 375.2,42.7 376.2,42.8 377.2,43 378.2,42.9 379.2,42.8 380.2,42.9 381.2,42.9 382.2,43 383.2,43 384.2,43.1 385.2,43.2 386.2,43.2 387.2,43.3 388.2,43.3 389.2,43.3 390.2,43.2 391.2,43.3 392.2,43.4 393.2,43.5 394.2,43.4 395.2,43.4 396.2,43.4 397.2,43.5 398.2,43.6 399.2,43.6 400.3,22.7" fill="none" stroke="#000" stroke-width="1.25" stroke-linejoin="round"/>
<path d="M314.2,22.7 315.2,28.6 316.2,31.5 317.2,33 318.2,33.9 319.2,34.6 320.2,35.1 321.2,35.6 322.2,35.9 323.2,36.3 324.2,36.7 325.2,37 326.2,37.3 327.2,37.6 328.2,38.1 329.2,38.4 330.2,38.7 331.2,38.9 332.2,39.2 333.2,39.4 334.2,39.6 335.2,39.9 336.2,40.1 337.2,40.4 338.2,40.5 339.2,40.8 340.2,41.1 341.2,41.3 342.2,41.5 343.2,41.6 344.2,41.9 345.2,42 346.2,42.1 347.2,42.1 348.2,42.3 349.2,42.4 350.2,42.7 351.2,42.8 352.2,42.9 353.2,42.9 354.2,43.1 355.2,43.3 356.2,43.4 357.2,43.5 358.2,43.5 359.2,43.6 360.2,43.7 361.2,43.7 362.2,43.8 363.2,43.9 364.2,44 365.2,44.1 366.2,44.2 367.2,44.3 368.2,44.4 369.2,44.4 370.2,44.4 371.2,44.4 372.2,44.5 373.2,44.6 374.2,44.6 375.2,44.7 376.2,44.8 377.2,44.8 378.2,44.8 379.2,44.8 380.2,44.9 381.2,44.9 382.2,45 383.2,45 384.2,45.1 385.2,45.1 386.2,45.1 387.2,45.1 388.2,45.2 389.2,45.3 390.2,45.3 391.2,45.3 392.2,45.3 393.2,45.4 394.2,45.5 395.2,45.4 396.2,45.4 397.2,45.4 398.2,45.4 399.2,45.5 400.3,22.7" fill="none" stroke="#000" stroke-width="1.25" stroke-linejoin="round"/>
<line x1="400.3" y1="22.7" x2="400.3" y2="45.5" stroke="#000" stroke-width="0.9"/>
<path d="M420.2,22.9 421.2,23.1 422.2,23 423.2,23.4 424.2,23.2 425.2,23.1 426.2,23 427.2,22.5 428.2,23 429.2,22.9 430.2,22.7 431.2,22.9 432.2,22.9 433.2,22.7 434.2,22.8 435.2,22.7" fill="none" stroke="#000" stroke-width="2.4" stroke-linejoin="round"/>
<path d="M521.8,22.9 522.8,22.3 523.8,22.7 524.8,22.4 525.8,22.7 526.8,22.9 527.8,22.8 528.8,22.8 529.8,22.8 530.8,23.2 531.8,22.5 532.8,23 533.8,22.4 534.8,22.7" fill="none" stroke="#000" stroke-width="2.4" stroke-linejoin="round"/>
<path d="M435.5,21.7 436.5,21.8 437.5,21.5 438.5,21.7 439.5,21.6 440.5,21.3 441.5,21.7 442.5,21.5 443.5,22 444.5,21.5 445.5,22 446.5,21.6 447.5,22.1 448.5,21.8 449.5,21.8 450.5,21.9 451.5,21.9 452.5,22 453.5,22 454.5,21.6 455.5,21.4 456.5,21.2 457.5,21.6 458.5,21.9 459.5,21.8 460.5,21.7 461.5,21.6 462.5,21.6 463.5,21.6 464.5,21.8 465.5,21.3 466.5,21.8 467.5,21.4 468.5,21.7 469.5,21.6 470.5,21.6 471.5,21.5 472.5,21.5 473.5,21.7 474.5,21.5 475.5,22.2 476.5,21.6 477.5,21.6 478.5,21.6 479.5,21.5 480.5,21.2 481.5,21.6 482.5,21.8 483.5,21.4 484.5,21.7 485.5,21.5 486.5,21.7 487.5,21.8 488.5,21.8 489.5,21.8 490.5,21.6 491.5,21.9 492.5,21.6 493.5,21.8 494.5,21.8 495.5,21.6 496.5,21.4 497.5,21.8 498.5,21.5 499.5,21.5 500.5,21.5 501.5,21.9 502.5,21.7 503.5,21.2 504.5,21.8 505.5,22.1 506.5,22.1 507.5,21.6 508.5,21.7 509.5,21.8 510.5,21.9 511.5,21.7 512.5,21.5 513.5,21.8 514.5,21.8 515.5,21.4 516.5,21.6 517.5,21.8 518.5,21.7 519.5,21.8 520.5,21.9 521.5,21.8 521.5,24.8 520.5,24.8 519.5,24.4 518.5,25.2 517.5,24.2 516.5,24.7 515.5,24.8 514.5,24.8 513.5,24.7 512.5,24.9 511.5,25.1 510.5,25.2 509.5,24.3 508.5,24.6 507.5,25.1 506.5,24.9 505.5,25.1 504.5,24.5 503.5,24.9 502.5,24.8 501.5,24.2 500.5,24.6 499.5,24.8 498.5,24.8 497.5,25.3 496.5,25.3 495.5,25 494.5,25.3 493.5,24.3 492.5,25 491.5,24.8 490.5,25.2 489.5,25.2 488.5,24.9 487.5,25 486.5,24.2 485.5,24.7 484.5,25.3 483.5,24.9 482.5,24 481.5,24.6 480.5,24.8 479.5,24.7 478.5,25.5 477.5,24.9 476.5,24.4 475.5,25.3 474.5,24.9 473.5,24.9 472.5,24.6 471.5,24.8 470.5,24.6 469.5,25.6 468.5,24.8 467.5,24.8 466.5,24.9 465.5,25.6 464.5,24.6 463.5,24.9 462.5,24.4 461.5,24.6 460.5,24.8 459.5,24.9 458.5,24.6 457.5,25.2 456.5,25.1 455.5,25 454.5,24.8 453.5,24.9 452.5,25 451.5,24.6 450.5,24.2 449.5,24.7 448.5,24.9 447.5,24.8 446.5,24.6 445.5,25.1 444.5,24.6 443.5,25.1 442.5,25 441.5,25.4 440.5,25.4 439.5,24.9 438.5,24.9 437.5,25.6 436.5,25.4 435.5,25.1Z" fill="#000"/>
<line x1="435.5" y1="22.8" x2="435.5" y2="24.5" stroke="#000" stroke-width="1.1"/>
<line x1="522.1" y1="22.8" x2="522.1" y2="7.4" stroke="#000" stroke-width="1.3"/>
<path d="M435.5,22.8 436.5,23.3 437.5,23.4 438.5,23.5 439.5,23.6 440.5,23.9 441.5,23.9 442.5,23.9 443.5,23.9 444.5,23.9 445.5,23.9 446.5,23.9 447.5,24.1 448.5,24.1 449.5,24.3 450.5,24.2 451.5,24.2 452.5,24.3 453.5,24.2 454.5,24.3 455.5,24.3 456.5,24.4 457.5,24.3 458.5,24.3 459.5,24.3 460.5,24.4 461.5,24.3 462.5,24.3 463.5,24.4 464.5,24.4 465.5,24.5 466.5,24.5 467.5,24.6 468.5,24.6 469.5,24.6 470.5,24.5 471.5,24.5 472.5,24.4 473.5,24.5 474.5,24.4 475.5,24.3 476.5,24.3 477.5,24.4 478.5,24.4 479.5,24.4 480.5,24.4 481.5,24.4 482.5,24.5 483.5,24.5 484.5,24.5 485.5,24.5 486.5,24.5 487.5,24.5 488.5,24.5 489.5,24.5 490.5,24.5 491.5,24.5 492.5,24.4 493.5,24.4 494.5,24.4 495.5,24.5 496.5,24.6 497.5,24.5 498.5,24.5 499.5,24.5 500.5,24.5 501.5,24.5 502.5,24.4 503.5,24.5 504.5,24.5 505.5,24.5 506.5,24.4 507.5,24.4 508.5,24.4 509.5,24.4 510.5,24.5 511.5,24.6 512.5,24.6 513.5,24.6 514.5,24.6 515.5,24.6 516.5,24.5 517.5,24.4 518.5,24.5 519.5,24.7 520.5,24.7 521.5,24.7 522.1,22.8" fill="none" stroke="#000" stroke-width="1.25" stroke-linejoin="round"/>
<path d="M435.5,22.8 436.5,23.7 437.5,24.1 438.5,24.6 439.5,24.7 440.5,24.9 441.5,25.1 442.5,25.2 443.5,25.3 444.5,25.4 445.5,25.5 446.5,25.6 447.5,25.7 448.5,25.7 449.5,25.8 450.5,25.9 451.5,26 452.5,26 453.5,26 454.5,25.9 455.5,26 456.5,26.1 457.5,26.2 458.5,26.2 459.5,26.2 460.5,26.2 461.5,26.2 462.5,26.3 463.5,26.4 464.5,26.3 465.5,26.3 466.5,26.3 467.5,26.4 468.5,26.3 469.5,26.4 470.5,26.3 471.5,26.4 472.5,26.5 473.5,26.6 474.5,26.5 475.5,26.4 476.5,26.3 477.5,26.4 478.5,26.4 479.5,26.5 480.5,26.5 481.5,26.5 482.5,26.5 483.5,26.6 484.5,26.6 485.5,26.5 486.5,26.4 487.5,26.4 488.5,26.3 489.5,26.3 490.5,26.4 491.5,26.5 492.5,26.5 493.5,26.5 494.5,26.4 495.5,26.5 496.5,26.5 497.5,26.5 498.5,26.5 499.5,26.5 500.5,26.5 501.5,26.5 502.5,26.5 503.5,26.6 504.5,26.6 505.5,26.6 506.5,26.5 507.5,26.5 508.5,26.5 509.5,26.4 510.5,26.4 511.5,26.4 512.5,26.5 513.5,26.5 514.5,26.5 515.5,26.6 516.5,26.5 517.5,26.6 518.5,26.5 519.5,26.5 520.5,26.6 521.5,26.6 522.1,22.8" fill="none" stroke="#000" stroke-width="1.25" stroke-linejoin="round"/>
<path d="M435.5,22.8 436.5,24.3 437.5,25 438.5,25.4 439.5,25.8 440.5,26 441.5,26.2 442.5,26.3 443.5,26.5 444.5,26.7 445.5,26.8 446.5,26.9 447.5,27.1 448.5,27.2 449.5,27.3 450.5,27.4 451.5,27.5 452.5,27.6 453.5,27.7 454.5,27.8 455.5,27.8 456.5,27.9 457.5,27.9 458.5,28 459.5,28.1 460.5,28.1 461.5,28.1 462.5,28.1 463.5,28.1 464.5,28.1 465.5,28.2 466.5,28.3 467.5,28.3 468.5,28.3 469.5,28.2 470.5,28.3 471.5,28.2 472.5,28.3 473.5,28.2 474.5,28.3 475.5,28.3 476.5,28.4 477.5,28.4 478.5,28.4 479.5,28.4 480.5,28.4 481.5,28.4 482.5,28.5 483.5,28.5 484.5,28.5 485.5,28.4 486.5,28.4 487.5,28.4 488.5,28.4 489.5,28.4 490.5,28.5 491.5,28.4 492.5,28.5 493.5,28.5 494.5,28.5 495.5,28.4 496.5,28.4 497.5,28.6 498.5,28.5 499.5,28.4 500.5,28.3 501.5,28.4 502.5,28.4 503.5,28.5 504.5,28.5 505.5,28.6 506.5,28.5 507.5,28.5 508.5,28.5 509.5,28.5 510.5,28.5 511.5,28.5 512.5,28.5 513.5,28.5 514.5,28.6 515.5,28.6 516.5,28.6 517.5,28.5 518.5,28.6 519.5,28.6 520.5,28.6 521.5,28.6 522.1,22.8" fill="none" stroke="#000" stroke-width="1.25" stroke-linejoin="round"/>
<path d="M435.5,22.8 436.5,24.8 437.5,25.8 438.5,26.4 439.5,26.9 440.5,27.2 441.5,27.5 442.5,27.7 443.5,28 444.5,28.1 445.5,28.4 446.5,28.5 447.5,28.7 448.5,28.8 449.5,28.9 450.5,29 451.5,29.1 452.5,29.2 453.5,29.4 454.5,29.5 455.5,29.5 456.5,29.7 457.5,29.7 458.5,29.8 459.5,29.7 460.5,29.8 461.5,29.9 462.5,30 463.5,30.1 464.5,30.1 465.5,30.2 466.5,30.2 467.5,30.2 468.5,30.2 469.5,30.2 470.5,30.3 471.5,30.3 472.5,30.3 473.5,30.3 474.5,30.3 475.5,30.2 476.5,30.3 477.5,30.3 478.5,30.4 479.5,30.4 480.5,30.3 481.5,30.2 482.5,30.3 483.5,30.4 484.5,30.4 485.5,30.3 486.5,30.3 487.5,30.3 488.5,30.4 489.5,30.4 490.5,30.4 491.5,30.4 492.5,30.4 493.5,30.4 494.5,30.5 495.5,30.5 496.5,30.5 497.5,30.6 498.5,30.5 499.5,30.5 500.5,30.4 501.5,30.4 502.5,30.3 503.5,30.4 504.5,30.4 505.5,30.5 506.5,30.5 507.5,30.5 508.5,30.4 509.5,30.5 510.5,30.5 511.5,30.5 512.5,30.4 513.5,30.5 514.5,30.6 515.5,30.6 516.5,30.5 517.5,30.5 518.5,30.6 519.5,30.6 520.5,30.6 521.5,30.6 522.1,22.8" fill="none" stroke="#000" stroke-width="1.25" stroke-linejoin="round"/>
<path d="M435.5,22.8 436.5,25.2 437.5,26.6 438.5,27.3 439.5,27.9 440.5,28.3 441.5,28.7 442.5,29.2 443.5,29.4 444.5,29.6 445.5,29.7 446.5,30 447.5,30.2 448.5,30.3 449.5,30.5 450.5,30.7 451.5,30.8 452.5,31 453.5,31 454.5,31.2 455.5,31.3 456.5,31.4 457.5,31.5 458.5,31.6 459.5,31.6 460.5,31.7 461.5,31.7 462.5,31.8 463.5,31.8 464.5,31.9 465.5,32 466.5,32 467.5,32 468.5,32 469.5,32.2 470.5,32.2 471.5,32.2 472.5,32.1 473.5,32.2 474.5,32.2 475.5,32.3 476.5,32.3 477.5,32.2 478.5,32.2 479.5,32.2 480.5,32.3 481.5,32.4 482.5,32.4 483.5,32.3 484.5,32.4 485.5,32.3 486.5,32.4 487.5,32.5 488.5,32.5 489.5,32.5 490.5,32.4 491.5,32.6 492.5,32.5 493.5,32.4 494.5,32.4 495.5,32.4 496.5,32.4 497.5,32.4 498.5,32.5 499.5,32.5 500.5,32.5 501.5,32.4 502.5,32.5 503.5,32.5 504.5,32.5 505.5,32.4 506.5,32.5 507.5,32.5 508.5,32.6 509.5,32.5 510.5,32.5 511.5,32.5 512.5,32.6 513.5,32.5 514.5,32.5 515.5,32.5 516.5,32.5 517.5,32.4 518.5,32.5 519.5,32.5 520.5,32.6 521.5,32.4 522.1,22.8" fill="none" stroke="#000" stroke-width="1.25" stroke-linejoin="round"/>
<path d="M435.5,22.8 436.5,25.6 437.5,27.2 438.5,28.1 439.5,28.9 440.5,29.4 441.5,30 442.5,30.4 443.5,30.6 444.5,31 445.5,31.3 446.5,31.6 447.5,31.7 448.5,31.9 449.5,32.1 450.5,32.3 451.5,32.6 452.5,32.8 453.5,33 454.5,33.1 455.5,33.1 456.5,33.2 457.5,33.3 458.5,33.3 459.5,33.4 460.5,33.5 461.5,33.6 462.5,33.7 463.5,33.7 464.5,33.7 465.5,33.9 466.5,33.9 467.5,33.9 468.5,33.9 469.5,34 470.5,34 471.5,34 472.5,34.1 473.5,34.1 474.5,34.2 475.5,34.2 476.5,34.2 477.5,34.3 478.5,34.3 479.5,34.4 480.5,34.4 481.5,34.4 482.5,34.4 483.5,34.4 484.5,34.4 485.5,34.4 486.5,34.4 487.5,34.5 488.5,34.4 489.5,34.4 490.5,34.5 491.5,34.5 492.5,34.5 493.5,34.5 494.5,34.5 495.5,34.5 496.5,34.5 497.5,34.5 498.5,34.5 499.5,34.5 500.5,34.4 501.5,34.4 502.5,34.5 503.5,34.5 504.5,34.5 505.5,34.4 506.5,34.4 507.5,34.5 508.5,34.5 509.5,34.6 510.5,34.6 511.5,34.6 512.5,34.6 513.5,34.6 514.5,34.6 515.5,34.5 516.5,34.4 517.5,34.4 518.5,34.6 519.5,34.5 520.5,34.6 521.5,34.5 522.1,22.8" fill="none" stroke="#000" stroke-width="1.25" stroke-linejoin="round"/>
<path d="M435.5,22.8 436.5,26.3 437.5,28.1 438.5,29.2 439.5,30 440.5,30.7 441.5,31.1 442.5,31.5 443.5,31.9 444.5,32.3 445.5,32.8 446.5,33.1 447.5,33.4 448.5,33.6 449.5,33.8 450.5,33.8 451.5,34 452.5,34.3 453.5,34.5 454.5,34.6 455.5,34.6 456.5,34.8 457.5,35.1 458.5,35.4 459.5,35.5 460.5,35.5 461.5,35.4 462.5,35.4 463.5,35.6 464.5,35.7 465.5,35.7 466.5,35.7 467.5,35.9 468.5,35.9 469.5,36 470.5,36.1 471.5,36.1 472.5,36.2 473.5,36.2 474.5,36.2 475.5,36.2 476.5,36.2 477.5,36.3 478.5,36.4 479.5,36.4 480.5,36.3 481.5,36.4 482.5,36.3 483.5,36.4 484.5,36.4 485.5,36.4 486.5,36.5 487.5,36.5 488.5,36.5 489.5,36.5 490.5,36.4 491.5,36.4 492.5,36.5 493.5,36.6 494.5,36.6 495.5,36.5 496.5,36.5 497.5,36.5 498.5,36.5 499.5,36.5 500.5,36.5 501.5,36.5 502.5,36.5 503.5,36.4 504.5,36.5 505.5,36.5 506.5,36.5 507.5,36.5 508.5,36.5 509.5,36.6 510.5,36.5 511.5,36.5 512.5,36.4 513.5,36.4 514.5,36.4 515.5,36.6 516.5,36.5 517.5,36.5 518.5,36.5 519.5,36.5 520.5,36.5 521.5,36.5 522.1,22.8" fill="none" stroke="#000" stroke-width="1.25" stroke-linejoin="round"/>
<path d="M435.5,22.8 436.5,26.8 437.5,29.1 438.5,30.3 439.5,31.2 440.5,31.8 441.5,32.3 442.5,32.9 443.5,33.3 444.5,33.8 445.5,34.1 446.5,34.4 447.5,34.8 448.5,35.1 449.5,35.3 450.5,35.5 451.5,35.7 452.5,36.1 453.5,36.3 454.5,36.5 455.5,36.7 456.5,36.8 457.5,37 458.5,37.1 459.5,37.2 460.5,37.2 461.5,37.3 462.5,37.4 463.5,37.5 464.5,37.6 465.5,37.6 466.5,37.7 467.5,37.8 468.5,37.9 469.5,37.9 470.5,38 471.5,38.1 472.5,38 473.5,38 474.5,37.8 475.5,38 476.5,38.1 477.5,38.2 478.5,38.3 479.5,38.3 480.5,38.3 481.5,38.3 482.5,38.4 483.5,38.3 484.5,38.3 485.5,38.3 486.5,38.3 487.5,38.3 488.5,38.4 489.5,38.4 490.5,38.4 491.5,38.4 492.5,38.4 493.5,38.4 494.5,38.4 495.5,38.5 496.5,38.4 497.5,38.4 498.5,38.4 499.5,38.4 500.5,38.4 501.5,38.4 502.5,38.5 503.5,38.5 504.5,38.5 505.5,38.6 506.5,38.5 507.5,38.5 508.5,38.4 509.5,38.5 510.5,38.5 511.5,38.5 512.5,38.5 513.5,38.4 514.5,38.5 515.5,38.5 516.5,38.5 517.5,38.5 518.5,38.5 519.5,38.5 520.5,38.5 521.5,38.5 522.1,22.8" fill="none" stroke="#000" stroke-width="1.25" stroke-linejoin="round"/>
<path d="M435.5,22.8 436.5,27.3 437.5,29.7 438.5,31.1 439.5,32.1 440.5,32.9 441.5,33.6 442.5,34 443.5,34.6 444.5,35.1 445.5,35.6 446.5,36 447.5,36.3 448.5,36.6 449.5,37 450.5,37.3 451.5,37.5 452.5,37.7 453.5,38 454.5,38.1 455.5,38.3 456.5,38.4 457.5,38.6 458.5,38.8 459.5,38.9 460.5,39.1 461.5,39.2 462.5,39.3 463.5,39.4 464.5,39.6 465.5,39.7 466.5,39.8 467.5,39.8 468.5,39.9 469.5,39.9 470.5,39.9 471.5,39.9 472.5,40 473.5,40.1 474.5,40.2 475.5,40.2 476.5,40.2 477.5,40.2 478.5,40.2 479.5,40.2 480.5,40.2 481.5,40.3 482.5,40.3 483.5,40.3 484.5,40.3 485.5,40.3 486.5,40.2 487.5,40.3 488.5,40.3 489.5,40.4 490.5,40.4 491.5,40.4 492.5,40.4 493.5,40.4 494.5,40.5 495.5,40.4 496.5,40.4 497.5,40.4 498.5,40.5 499.5,40.5 500.5,40.5 501.5,40.5 502.5,40.5 503.5,40.5 504.5,40.5 505.5,40.5 506.5,40.6 507.5,40.6 508.5,40.6 509.5,40.5 510.5,40.5 511.5,40.5 512.5,40.5 513.5,40.5 514.5,40.5 515.5,40.5 516.5,40.5 517.5,40.6 518.5,40.6 519.5,40.6 520.5,40.6 521.5,40.5 522.1,22.8" fill="none" stroke="#000" stroke-width="1.25" stroke-linejoin="round"/>
<path d="M435.5,22.8 436.5,27.7 437.5,30.5 438.5,32.1 439.5,33.3 440.5,34.2 441.5,34.8 442.5,35.3 443.5,35.9 444.5,36.5 445.5,37 446.5,37.4 447.5,37.9 448.5,38.3 449.5,38.6 450.5,38.8 451.5,39.2 452.5,39.3 453.5,39.7 454.5,39.8 455.5,40.1 456.5,40.2 457.5,40.4 458.5,40.6 459.5,40.8 460.5,40.9 461.5,41 462.5,41.1 463.5,41.3 464.5,41.4 465.5,41.5 466.5,41.5 467.5,41.6 468.5,41.7 469.5,41.7 470.5,41.8 471.5,41.9 472.5,41.9 473.5,41.9 474.5,41.9 475.5,41.9 476.5,41.9 477.5,42 478.5,42.1 479.5,42.2 480.5,42.3 481.5,42.2 482.5,42.2 483.5,42.3 484.5,42.3 485.5,42.4 486.5,42.3 487.5,42.4 488.5,42.4 489.5,42.3 490.5,42.4 491.5,42.4 492.5,42.4 493.5,42.4 494.5,42.4 495.5,42.4 496.5,42.5 497.5,42.5 498.5,42.5 499.5,42.5 500.5,42.3 501.5,42.3 502.5,42.3 503.5,42.4 504.5,42.4 505.5,42.4 506.5,42.5 507.5,42.6 508.5,42.6 509.5,42.6 510.5,42.5 511.5,42.4 512.5,42.5 513.5,42.5 514.5,42.5 515.5,42.5 516.5,42.5 517.5,42.5 518.5,42.5 519.5,42.7 520.5,42.7 521.5,42.7 522.1,22.8" fill="none" stroke="#000" stroke-width="1.25" stroke-linejoin="round"/>
<line x1="522.1" y1="22.8" x2="522.1" y2="42.5" stroke="#000" stroke-width="0.9"/>
<path d="M298.9,71.5 299.9,71.7 300.9,71.6 301.9,71.8 302.9,71.6 303.9,71.8 304.9,71.3 305.9,71.6 306.9,72 307.9,71.4 308.9,71.4 309.9,72 310.9,71.7 311.9,71.9 312.9,71.1 313.9,71.6" fill="none" stroke="#000" stroke-width="2.8" stroke-linejoin="round"/>
<path d="M400.2,71.7 401.2,71.9 402.2,71.2 403.2,71.3 404.2,71.5 405.2,71.6 406.2,71.3 407.2,72.2 408.2,71.8 409.2,71.5 410.2,71.5 411.2,72.2 412.2,72.2" fill="none" stroke="#000" stroke-width="2.8" stroke-linejoin="round"/>
<path d="M314.2,70.8 315.2,70.3 316.2,70.4 317.2,70.8 318.2,70.4 319.2,70.4 320.2,70.2 321.2,70.4 322.2,70.6 323.2,70.3 324.2,70.2 325.2,70.4 326.2,70.9 327.2,70.5 328.2,70.4 329.2,70.5 330.2,70.6 331.2,70.5 332.2,70.1 333.2,70.6 334.2,70.5 335.2,70.7 336.2,70.2 337.2,70.7 338.2,70.4 339.2,70.2 340.2,70.8 341.2,70.4 342.2,70.6 343.2,70.5 344.2,70.7 345.2,70.7 346.2,70.7 347.2,70.6 348.2,70.2 349.2,70.2 350.2,70.5 351.2,70.3 352.2,70.6 353.2,70.5 354.2,70.2 355.2,70.3 356.2,70.3 357.2,70.3 358.2,70.5 359.2,70.6 360.2,70.8 361.2,70.3 362.2,70.4 363.2,70.8 364.2,70.7 365.2,70.5 366.2,70 367.2,70.3 368.2,70.5 369.2,70.4 370.2,70.9 371.2,70.5 372.2,70.6 373.2,70.3 374.2,70.3 375.2,70.4 376.2,70.4 377.2,70.5 378.2,70.6 379.2,70.5 380.2,70.7 381.2,70.2 382.2,70.5 383.2,70.5 384.2,70.8 385.2,70.5 386.2,70.6 387.2,70.3 388.2,70.6 389.2,70.6 390.2,70.4 391.2,70.4 392.2,70.5 393.2,70.6 394.2,70.3 395.2,70.7 396.2,70.4 397.2,70.9 398.2,70.8 399.2,70.4 400.2,70.4 400.2,74.4 399.2,75.3 398.2,75 397.2,75.2 396.2,74.6 395.2,74.9 394.2,75.3 393.2,75.2 392.2,75.6 391.2,75.5 390.2,75.1 389.2,75.1 388.2,75 387.2,75 386.2,74.8 385.2,74.7 384.2,74.6 383.2,75.2 382.2,74.4 381.2,75.4 380.2,74.9 379.2,75 378.2,75.5 377.2,74.8 376.2,75 375.2,75.3 374.2,74.8 373.2,74.5 372.2,75 371.2,74.8 370.2,75.3 369.2,74.4 368.2,74.2 367.2,74.8 366.2,75 365.2,74.7 364.2,75.1 363.2,75.1 362.2,75.1 361.2,75.6 360.2,74.9 359.2,75.2 358.2,74.8 357.2,74.4 356.2,74.8 355.2,75.3 354.2,75.4 353.2,74.9 352.2,75.2 351.2,75.4 350.2,74.9 349.2,75.3 348.2,74.6 347.2,74.9 346.2,75.2 345.2,74.1 344.2,75.1 343.2,75 342.2,74.8 341.2,74.7 340.2,74.6 339.2,75.6 338.2,75.6 337.2,74.6 336.2,75.4 335.2,75.2 334.2,75.3 333.2,75 332.2,74.1 331.2,75.1 330.2,74.5 329.2,75.1 328.2,74.4 327.2,75.1 326.2,74.8 325.2,75.3 324.2,74.9 323.2,75.4 322.2,74.7 321.2,75.1 320.2,75.4 319.2,74.7 318.2,75.2 317.2,75.3 316.2,75 315.2,74.8 314.2,75.2Z" fill="#000"/>
<line x1="314.2" y1="71.6" x2="314.2" y2="89.7" stroke="#000" stroke-width="1.1"/>
<line x1="400.5" y1="71.6" x2="400.5" y2="54.8" stroke="#000" stroke-width="1.3"/>
<path d="M314.2,71.6 315.2,72 316.2,71.7 317.2,71.6 318.2,71.4 319.2,71.5 320.2,72.1 321.2,73 322.2,72.9 323.2,73.3 324.2,74 325.2,73.6 326.2,73.1 327.2,73 328.2,73 329.2,73.6 330.2,73.9 331.2,73.4 332.2,73.3 333.2,73.6 334.2,73.6 335.2,73.6 336.2,73.7 337.2,74.1 338.2,74.6 339.2,73.7 340.2,73.2 341.2,74 342.2,74 343.2,74 344.2,74.4 345.2,74.3 346.2,74.2 347.2,74.1 348.2,74.4 349.2,73.8 350.2,73.3 351.2,73.5 352.2,74.4 353.2,74.9 354.2,74.5 355.2,74.5 356.2,74.2 357.2,73.9 358.2,74.4 359.2,74.6 360.2,74.8 361.2,75.1 362.2,74.6 363.2,74.4 364.2,74.4 365.2,74.5 366.2,75.1 367.2,75.9 368.2,75 369.2,74.3 370.2,75 371.2,74.6 372.2,74.1 373.2,74.3 374.2,73.7 375.2,74.1 376.2,74.9 377.2,74.7 378.2,74.8 379.2,74.9 380.2,75.7 381.2,75.7 382.2,75.2 383.2,74.9 384.2,74.8 385.2,74.9 386.2,74.7 387.2,74.5 388.2,74.3 389.2,74.8 390.2,75.3 391.2,75.3 392.2,74.9 393.2,74.8 394.2,74.2 395.2,74.4 396.2,75.3 397.2,75.1 398.2,75.5 399.2,75.3 400.2,75.2 400.5,71.6" fill="none" stroke="#000" stroke-width="1.3" stroke-linejoin="round"/>
<path d="M314.2,71.6 315.2,72.8 316.2,72.6 317.2,72.9 318.2,73.5 319.2,74.7 320.2,74.5 321.2,73 322.2,73 323.2,73.3 324.2,73.5 325.2,74.1 326.2,74.1 327.2,74 328.2,73.7 329.2,74.1 330.2,74.6 331.2,75 332.2,75.8 333.2,75.2 334.2,74.7 335.2,75.1 336.2,75.6 337.2,75.1 338.2,74.9 339.2,76.2 340.2,76.3 341.2,75.8 342.2,75.9 343.2,75.4 344.2,75.8 345.2,76.4 346.2,76.2 347.2,76.4 348.2,76.7 349.2,75.8 350.2,75.8 351.2,76.3 352.2,76.2 353.2,76.2 354.2,75.9 355.2,76.6 356.2,76.9 357.2,76.5 358.2,76.5 359.2,76.7 360.2,76.8 361.2,76 362.2,75.7 363.2,76.5 364.2,77.1 365.2,77.7 366.2,77.2 367.2,77.4 368.2,77.8 369.2,77.3 370.2,77.1 371.2,76.8 372.2,77.5 373.2,77.7 374.2,77.2 375.2,77.7 376.2,78.4 377.2,77.5 378.2,76.8 379.2,77.4 380.2,78.1 381.2,79 382.2,78.4 383.2,77.6 384.2,78 385.2,78.3 386.2,77.9 387.2,77.8 388.2,77.7 389.2,76.5 390.2,76.3 391.2,77.3 392.2,78.1 393.2,77.2 394.2,76.3 395.2,77.1 396.2,76.6 397.2,76.8 398.2,78.4 399.2,77.2 400.2,77.1 400.5,71.6" fill="none" stroke="#000" stroke-width="1.3" stroke-linejoin="round"/>
<path d="M314.2,71.6 315.2,73.4 316.2,74.1 317.2,74.2 318.2,73.9 319.2,74.3 320.2,75 321.2,75.6 322.2,75.8 323.2,75.3 324.2,75.2 325.2,75.7 326.2,76 327.2,75.6 328.2,76.4 329.2,77.4 330.2,76.8 331.2,76 332.2,76.6 333.2,76.8 334.2,77.6 335.2,77.9 336.2,77.4 337.2,77.1 338.2,76.9 339.2,77.8 340.2,78.1 341.2,77.6 342.2,78.4 343.2,79 344.2,78.1 345.2,77.7 346.2,77.8 347.2,78.6 348.2,78.5 349.2,78.1 350.2,78.2 351.2,78.7 352.2,79 353.2,78.9 354.2,79.3 355.2,78.8 356.2,78.9 357.2,79.5 358.2,79 359.2,78.9 360.2,80.7 361.2,80.4 362.2,79.4 363.2,79.1 364.2,79.1 365.2,79.4 366.2,79.6 367.2,79.8 368.2,79.2 369.2,79.6 370.2,80 371.2,79.3 372.2,79.5 373.2,79.5 374.2,79.7 375.2,80.1 376.2,79.8 377.2,80.1 378.2,79.8 379.2,80 380.2,79.8 381.2,80 382.2,80.8 383.2,80.2 384.2,79.9 385.2,80.2 386.2,80.5 387.2,80.2 388.2,80.7 389.2,80.6 390.2,80.2 391.2,80.6 392.2,81 393.2,80.9 394.2,80.6 395.2,80.7 396.2,80.9 397.2,81.4 398.2,80.9 399.2,80.3 400.2,80.6 400.5,71.6" fill="none" stroke="#000" stroke-width="1.3" stroke-linejoin="round"/>
<path d="M314.2,71.6 315.2,73.4 316.2,73.6 317.2,74.4 318.2,75.1 319.2,75.6 320.2,75.7 321.2,76.4 322.2,76.6 323.2,76.1 324.2,77 325.2,77.5 326.2,77.3 327.2,77.4 328.2,77.9 329.2,77.9 330.2,78 331.2,77.9 332.2,77.8 333.2,77.7 334.2,77.6 335.2,77.9 336.2,78.8 337.2,79.2 338.2,79 339.2,79 340.2,78.9 341.2,79.3 342.2,79.2 343.2,79.7 344.2,79.6 345.2,79.6 346.2,81.3 347.2,80.9 348.2,80 349.2,79.9 350.2,80 351.2,80 352.2,80.3 353.2,80.9 354.2,80.1 355.2,79.9 356.2,80.1 357.2,80.5 358.2,81.5 359.2,81.5 360.2,80.9 361.2,80.8 362.2,81.3 363.2,80.8 364.2,81.1 365.2,82.2 366.2,81.1 367.2,81.5 368.2,81.8 369.2,81.4 370.2,82.5 371.2,82 372.2,81 373.2,81.2 374.2,81.6 375.2,82 376.2,82.2 377.2,82.2 378.2,82.2 379.2,82.4 380.2,82.3 381.2,82.5 382.2,82.9 383.2,82.4 384.2,83.1 385.2,83.1 386.2,82.7 387.2,83 388.2,82.9 389.2,83.4 390.2,83.6 391.2,84 392.2,83.4 393.2,83.9 394.2,84.4 395.2,83.1 396.2,82.5 397.2,83.7 398.2,84.8 399.2,84 400.2,83.7 400.5,71.6" fill="none" stroke="#000" stroke-width="1.3" stroke-linejoin="round"/>
<path d="M314.2,71.6 315.2,74.1 316.2,74.5 317.2,75.4 318.2,75.7 319.2,75.5 320.2,76.9 321.2,77.5 322.2,77.4 323.2,77.6 324.2,78.2 325.2,78.4 326.2,77.6 327.2,77.9 328.2,77.7 329.2,77.1 330.2,79 331.2,80.3 332.2,79.8 333.2,79.6 334.2,80 335.2,80.6 336.2,80.5 337.2,80 338.2,80.2 339.2,80.8 340.2,81.3 341.2,81.2 342.2,81.6 343.2,81.5 344.2,81.4 345.2,81.6 346.2,81.4 347.2,82.3 348.2,82.7 349.2,82 350.2,82.2 351.2,82.4 352.2,82.7 353.2,83.5 354.2,83.8 355.2,83.2 356.2,82.9 357.2,84 358.2,84.1 359.2,84 360.2,84.7 361.2,83.9 362.2,83.9 363.2,84.7 364.2,84.7 365.2,85.1 366.2,85.1 367.2,84.6 368.2,84.7 369.2,84.6 370.2,84.7 371.2,84.2 372.2,84.7 373.2,85.3 374.2,84.9 375.2,85.3 376.2,85.2 377.2,85.2 378.2,85.3 379.2,84.7 380.2,84.5 381.2,85.6 382.2,85.5 383.2,84.7 384.2,85.9 385.2,86.8 386.2,86.6 387.2,86.3 388.2,85.8 389.2,86.2 390.2,86.3 391.2,86.1 392.2,85.4 393.2,85.2 394.2,85.2 395.2,86.1 396.2,86.5 397.2,85.9 398.2,86.2 399.2,86.3 400.2,86.4 400.5,71.6" fill="none" stroke="#000" stroke-width="1.3" stroke-linejoin="round"/>
<path d="M314.2,71.6 315.2,73.7 316.2,75 317.2,76.1 318.2,77.1 319.2,77.1 320.2,77.3 321.2,77.8 322.2,78.5 323.2,78.6 324.2,78.5 325.2,79.5 326.2,79.3 327.2,79.4 328.2,80.2 329.2,80.1 330.2,80.2 331.2,81.1 332.2,81.6 333.2,81.3 334.2,81.4 335.2,81.9 336.2,82.7 337.2,83 338.2,83 339.2,83.5 340.2,82.9 341.2,82 342.2,82 343.2,83 344.2,83.1 345.2,83 346.2,84.3 347.2,83.9 348.2,83.6 349.2,84.2 350.2,84.8 351.2,84.5 352.2,84.5 353.2,85.5 354.2,85.5 355.2,85.5 356.2,86 357.2,86.2 358.2,85.8 359.2,85.8 360.2,86.1 361.2,86.3 362.2,86.4 363.2,86.6 364.2,86.9 365.2,86.7 366.2,86.4 367.2,86.9 368.2,87.2 369.2,87.5 370.2,87.6 371.2,87.6 372.2,88.3 373.2,88.3 374.2,87.3 375.2,86.6 376.2,87.3 377.2,87.8 378.2,87.7 379.2,87.9 380.2,88.3 381.2,88.8 382.2,88.1 383.2,87.8 384.2,88.1 385.2,87.7 386.2,88.1 387.2,88.5 388.2,88.5 389.2,89.5 390.2,89.9 391.2,89.4 392.2,88.9 393.2,88.1 394.2,88.7 395.2,89.1 396.2,88.7 397.2,88.8 398.2,88.8 399.2,89.8 400.2,89.7 400.5,71.6" fill="none" stroke="#000" stroke-width="1.3" stroke-linejoin="round"/>
<path d="M314.2,71.6 315.2,73.8 316.2,76 317.2,76.8 318.2,77.2 319.2,77.7 320.2,78.3 321.2,79 322.2,79 323.2,79.2 324.2,80.3 325.2,80.8 326.2,80.5 327.2,80.8 328.2,81.6 329.2,82.3 330.2,82.1 331.2,82.4 332.2,83.1 333.2,83.2 334.2,83.9 335.2,83.8 336.2,83.5 337.2,84 338.2,84.8 339.2,84.9 340.2,84.4 341.2,84.6 342.2,85.5 343.2,86.4 344.2,86.3 345.2,86 346.2,86.3 347.2,86.6 348.2,86.5 349.2,86.6 350.2,87.2 351.2,87.5 352.2,87.6 353.2,87.4 354.2,87.4 355.2,87.7 356.2,88.4 357.2,89.3 358.2,89.2 359.2,89.4 360.2,89.3 361.2,88.8 362.2,88.6 363.2,88.9 364.2,89.4 365.2,89.4 366.2,89.9 367.2,89.9 368.2,89.4 369.2,89.6 370.2,90.1 371.2,90.2 372.2,90.6 373.2,90.6 374.2,90.4 375.2,91.2 376.2,91.7 377.2,91.2 378.2,90.6 379.2,90.6 380.2,91.1 381.2,91.6 382.2,92.4 383.2,92.1 384.2,91.4 385.2,91.5 386.2,91.5 387.2,91.6 388.2,91.3 389.2,91.8 390.2,92.3 391.2,92.5 392.2,92.3 393.2,92 394.2,92.5 395.2,91.8 396.2,91.2 397.2,92.1 398.2,92.7 399.2,91.8 400.2,91.6 400.5,71.6" fill="none" stroke="#000" stroke-width="1.3" stroke-linejoin="round"/>
<path d="M420.2,71.1 421.2,71.7 422.2,71.1 423.2,71 424.2,71.6 425.2,71.4 426.2,71.5 427.2,71.7 428.2,71.5 429.2,71.5 430.2,70.8 431.2,71 432.2,71.3 433.2,71.3 434.2,71.4 435.2,71.1" fill="none" stroke="#000" stroke-width="2.8" stroke-linejoin="round"/>
<path d="M521.8,71.4 522.8,71.4 523.8,71.3 524.8,71.4 525.8,71.3 526.8,71.1 527.8,71.3 528.8,71.2 529.8,70.8 530.8,71.3 531.8,71.2 532.8,71.3 533.8,71.1 534.8,71.3" fill="none" stroke="#000" stroke-width="2.8" stroke-linejoin="round"/>
<path d="M435.5,70.2 436.5,70.3 437.5,70.3 438.5,69.9 439.5,69.9 440.5,70.1 441.5,69.9 442.5,70.6 443.5,69.9 444.5,69.9 445.5,70.2 446.5,70 447.5,69.6 448.5,70.1 449.5,69.9 450.5,70 451.5,69.8 452.5,69.9 453.5,70.1 454.5,70.1 455.5,69.9 456.5,70 457.5,69.9 458.5,70.1 459.5,70.1 460.5,69.8 461.5,70.2 462.5,70 463.5,70.2 464.5,69.9 465.5,70.1 466.5,70.1 467.5,70.1 468.5,70.2 469.5,70.2 470.5,70.1 471.5,70.1 472.5,69.8 473.5,70.1 474.5,69.7 475.5,69.6 476.5,70 477.5,70 478.5,70.4 479.5,70.2 480.5,70.3 481.5,70 482.5,70.2 483.5,70.3 484.5,70.2 485.5,70.2 486.5,70.1 487.5,69.9 488.5,69.9 489.5,69.8 490.5,70.2 491.5,70 492.5,70 493.5,70.2 494.5,70 495.5,70.3 496.5,70.5 497.5,70.2 498.5,70 499.5,69.8 500.5,70.5 501.5,70.2 502.5,69.9 503.5,70.3 504.5,69.8 505.5,70 506.5,70 507.5,70 508.5,69.9 509.5,70.6 510.5,70 511.5,70.2 512.5,70.1 513.5,69.8 514.5,70 515.5,70.1 516.5,70.3 517.5,70 518.5,70.2 519.5,70 520.5,70.2 521.5,69.6 521.5,74.4 520.5,74.6 519.5,74.6 518.5,75.3 517.5,74.8 516.5,74.6 515.5,74.7 514.5,73.6 513.5,74.3 512.5,74.6 511.5,75.1 510.5,74.4 509.5,74.2 508.5,74.8 507.5,74.7 506.5,74 505.5,74.9 504.5,74.4 503.5,74.8 502.5,74.6 501.5,74.6 500.5,74.6 499.5,74.7 498.5,74.5 497.5,74.6 496.5,74.5 495.5,74.6 494.5,73.6 493.5,74.8 492.5,74.5 491.5,74.6 490.5,75.1 489.5,74.9 488.5,74.7 487.5,74.8 486.5,75 485.5,75.2 484.5,74.5 483.5,74.8 482.5,75.3 481.5,73.8 480.5,74.2 479.5,74.6 478.5,74.5 477.5,74 476.5,74.7 475.5,74.8 474.5,74.9 473.5,74.2 472.5,74.5 471.5,74.4 470.5,74 469.5,74 468.5,74.3 467.5,74.7 466.5,74.6 465.5,75 464.5,75.2 463.5,74.3 462.5,74.4 461.5,74.5 460.5,74.7 459.5,75 458.5,74.3 457.5,75.1 456.5,74.7 455.5,75.3 454.5,74.3 453.5,74.9 452.5,74.7 451.5,74.8 450.5,74.9 449.5,75.2 448.5,74.9 447.5,74.8 446.5,74.5 445.5,74.5 444.5,74.4 443.5,74.7 442.5,74.8 441.5,74.4 440.5,74.4 439.5,75.4 438.5,74.8 437.5,74.2 436.5,73.6 435.5,74.4Z" fill="#000"/>
<line x1="435.5" y1="71.2" x2="435.5" y2="87" stroke="#000" stroke-width="1.1"/>
<line x1="522.1" y1="71.2" x2="522.1" y2="51.9" stroke="#000" stroke-width="1.3"/>
<path d="M435.5,71.2 436.5,71.5 437.5,71.4 438.5,72.3 439.5,72.3 440.5,72.2 441.5,73.2 442.5,73.2 443.5,72.8 444.5,73.1 445.5,73.3 446.5,72.9 447.5,72.7 448.5,73.2 449.5,73.6 450.5,73.8 451.5,73.5 452.5,72.9 453.5,72.9 454.5,73.2 455.5,73.2 456.5,73.5 457.5,73.9 458.5,73.3 459.5,72.2 460.5,71.9 461.5,73.5 462.5,74.2 463.5,73.8 464.5,73.7 465.5,73.8 466.5,73.3 467.5,72.5 468.5,72.7 469.5,73.4 470.5,74.3 471.5,74.5 472.5,74.2 473.5,73.6 474.5,74 475.5,74.4 476.5,74.1 477.5,74.2 478.5,74.1 479.5,73.9 480.5,73.9 481.5,73.7 482.5,74 483.5,74.4 484.5,74.7 485.5,74.2 486.5,74.3 487.5,74.9 488.5,74.4 489.5,74.2 490.5,74 491.5,73.8 492.5,74.4 493.5,74.9 494.5,74.8 495.5,75.2 496.5,74.8 497.5,74.4 498.5,74.5 499.5,75 500.5,75.2 501.5,74.9 502.5,75.1 503.5,75 504.5,75.5 505.5,75.2 506.5,75 507.5,75.8 508.5,75 509.5,74.8 510.5,75.3 511.5,75.3 512.5,74.8 513.5,74.6 514.5,74.7 515.5,74.5 516.5,75.3 517.5,75.4 518.5,74.1 519.5,73.7 520.5,74.1 521.5,75 522.1,71.2" fill="none" stroke="#000" stroke-width="1.3" stroke-linejoin="round"/>
<path d="M435.5,71.2 436.5,71.8 437.5,72.6 438.5,73.1 439.5,72.1 440.5,71.9 441.5,72.5 442.5,73 443.5,73.7 444.5,73.6 445.5,73.3 446.5,74.4 447.5,74.8 448.5,74 449.5,74.1 450.5,73.9 451.5,74.2 452.5,75.1 453.5,74.8 454.5,74.9 455.5,75.1 456.5,75 457.5,74.9 458.5,74.6 459.5,74.4 460.5,74.9 461.5,75.4 462.5,75.3 463.5,75.1 464.5,74.9 465.5,75.1 466.5,75.8 467.5,76.2 468.5,75.8 469.5,75.9 470.5,76.8 471.5,76.8 472.5,77 473.5,77.1 474.5,76.9 475.5,76.7 476.5,76.7 477.5,76.5 478.5,76.2 479.5,76.6 480.5,75.8 481.5,75.5 482.5,76.7 483.5,77.3 484.5,77.4 485.5,77.4 486.5,76 487.5,76 488.5,76.9 489.5,76.6 490.5,76.7 491.5,76.7 492.5,76.5 493.5,77.3 494.5,77.8 495.5,77.2 496.5,76.9 497.5,77.5 498.5,77.8 499.5,77.5 500.5,77 501.5,76.8 502.5,76.9 503.5,76.4 504.5,77.1 505.5,77.7 506.5,77.3 507.5,77.1 508.5,77.5 509.5,78.6 510.5,78.5 511.5,78.2 512.5,77.5 513.5,77.3 514.5,77.8 515.5,78.3 516.5,78.2 517.5,77.4 518.5,77.4 519.5,77.6 520.5,78.1 521.5,78.5 522.1,71.2" fill="none" stroke="#000" stroke-width="1.3" stroke-linejoin="round"/>
<path d="M435.5,71.2 436.5,71.3 437.5,72.6 438.5,73.8 439.5,73.9 440.5,74 441.5,74.6 442.5,74.4 443.5,74.5 444.5,74.7 445.5,74.3 446.5,74.4 447.5,74.8 448.5,75.3 449.5,75.6 450.5,75.6 451.5,75.1 452.5,75.7 453.5,76.8 454.5,77 455.5,76.7 456.5,76.7 457.5,76.2 458.5,76.1 459.5,77.2 460.5,77.6 461.5,77.1 462.5,77.3 463.5,77.7 464.5,77.8 465.5,77.4 466.5,77.1 467.5,77.8 468.5,78.2 469.5,78.3 470.5,78.3 471.5,78.2 472.5,78.4 473.5,78.9 474.5,78.3 475.5,77.9 476.5,78.5 477.5,78.7 478.5,79.2 479.5,78.8 480.5,78.7 481.5,78.6 482.5,78.2 483.5,78.7 484.5,78.9 485.5,78.9 486.5,78.9 487.5,79.1 488.5,79.2 489.5,78.7 490.5,78.4 491.5,78.9 492.5,79.7 493.5,80.2 494.5,81.1 495.5,80.8 496.5,79.6 497.5,79.6 498.5,80.2 499.5,80.2 500.5,79.7 501.5,79.6 502.5,80 503.5,79.6 504.5,79.2 505.5,80.2 506.5,79.8 507.5,79.5 508.5,80.2 509.5,80.7 510.5,81 511.5,80.2 512.5,80.5 513.5,80.6 514.5,80.9 515.5,81.7 516.5,81 517.5,80.7 518.5,80.8 519.5,80.3 520.5,80.6 521.5,81.1 522.1,71.2" fill="none" stroke="#000" stroke-width="1.3" stroke-linejoin="round"/>
<path d="M435.5,71.2 436.5,72.5 437.5,73.5 438.5,73.9 439.5,74.1 440.5,75.1 441.5,75.6 442.5,75.9 443.5,75.8 444.5,75.3 445.5,75.7 446.5,75.8 447.5,76.1 448.5,76.4 449.5,76.6 450.5,77.5 451.5,78.1 452.5,77.4 453.5,77.2 454.5,77.9 455.5,78.4 456.5,78.2 457.5,78.5 458.5,78.3 459.5,78 460.5,79.3 461.5,78.7 462.5,78.2 463.5,79.6 464.5,79.7 465.5,79.3 466.5,79.1 467.5,78.8 468.5,78.8 469.5,79.7 470.5,80.1 471.5,80.1 472.5,80.4 473.5,80.6 474.5,80.2 475.5,80.1 476.5,80.7 477.5,80.8 478.5,80.7 479.5,80.1 480.5,80.7 481.5,81.8 482.5,82.5 483.5,82.6 484.5,82.4 485.5,82.4 486.5,81.8 487.5,81.9 488.5,81.7 489.5,81.6 490.5,82.1 491.5,81.7 492.5,82.2 493.5,83 494.5,82.8 495.5,82.8 496.5,83.3 497.5,83 498.5,82 499.5,81.8 500.5,82.5 501.5,83 502.5,82.3 503.5,82.7 504.5,83.3 505.5,83.5 506.5,83.8 507.5,83.2 508.5,82.9 509.5,82.8 510.5,82.5 511.5,82.7 512.5,83.2 513.5,83.8 514.5,83.4 515.5,83.2 516.5,83.5 517.5,83.2 518.5,83.6 519.5,83.6 520.5,83.7 521.5,83.8 522.1,71.2" fill="none" stroke="#000" stroke-width="1.3" stroke-linejoin="round"/>
<path d="M435.5,71.2 436.5,72.8 437.5,73.7 438.5,73.7 439.5,73.8 440.5,75 441.5,76 442.5,75.8 443.5,76.1 444.5,76.8 445.5,77.4 446.5,77.4 447.5,77.8 448.5,78.2 449.5,78.5 450.5,79.2 451.5,78.6 452.5,78.4 453.5,79.1 454.5,79.8 455.5,79.5 456.5,79.1 457.5,80.1 458.5,80.6 459.5,80.2 460.5,80 461.5,80.7 462.5,80.8 463.5,80.9 464.5,81.8 465.5,81.9 466.5,80.8 467.5,81.3 468.5,82.8 469.5,83.1 470.5,83.1 471.5,82.2 472.5,82.5 473.5,83.4 474.5,83.3 475.5,83.3 476.5,83 477.5,83.1 478.5,83.8 479.5,84.1 480.5,83.6 481.5,83.2 482.5,83.5 483.5,84.1 484.5,84.1 485.5,84.5 486.5,84.8 487.5,84.5 488.5,84.4 489.5,84.6 490.5,84.8 491.5,85.1 492.5,85 493.5,84.5 494.5,84.8 495.5,85.5 496.5,84.9 497.5,84.8 498.5,85.1 499.5,84.3 500.5,84.5 501.5,85.6 502.5,85.4 503.5,84.9 504.5,85.6 505.5,85.5 506.5,84.9 507.5,85.2 508.5,85.8 509.5,86.2 510.5,85.8 511.5,85.5 512.5,85.8 513.5,85.8 514.5,85.5 515.5,85.3 516.5,85.9 517.5,86.2 518.5,87 519.5,87.4 520.5,86.1 521.5,85.9 522.1,71.2" fill="none" stroke="#000" stroke-width="1.3" stroke-linejoin="round"/>
<path d="M435.5,71.2 436.5,73.4 437.5,75.3 438.5,75.6 439.5,75.3 440.5,76.2 441.5,77.2 442.5,77.6 443.5,78 444.5,78.1 445.5,77.9 446.5,78.5 447.5,79.2 448.5,79.9 449.5,80.5 450.5,79.6 451.5,79.6 452.5,80.3 453.5,79.6 454.5,80.3 455.5,81.2 456.5,81.2 457.5,81.1 458.5,81.1 459.5,81.7 460.5,81.8 461.5,82 462.5,82.8 463.5,83 464.5,83.3 465.5,83.5 466.5,83.2 467.5,83.1 468.5,83.7 469.5,84.6 470.5,84.8 471.5,84.4 472.5,84.6 473.5,84.3 474.5,84.1 475.5,84.7 476.5,85.2 477.5,85.3 478.5,85.4 479.5,85.2 480.5,85.3 481.5,85.9 482.5,85.6 483.5,85.2 484.5,85.8 485.5,86.9 486.5,87.3 487.5,87.5 488.5,87.8 489.5,87.2 490.5,86.8 491.5,86.7 492.5,87.2 493.5,87.9 494.5,87.8 495.5,87.9 496.5,87.9 497.5,87.9 498.5,87.9 499.5,88.3 500.5,88 501.5,87.3 502.5,87.6 503.5,88.5 504.5,88.6 505.5,88.2 506.5,88.5 507.5,88.6 508.5,87.7 509.5,87.4 510.5,87.4 511.5,87.7 512.5,88.4 513.5,88.6 514.5,89.6 515.5,89.3 516.5,88.6 517.5,88.7 518.5,87.8 519.5,87.7 520.5,88.4 521.5,88.8 522.1,71.2" fill="none" stroke="#000" stroke-width="1.3" stroke-linejoin="round"/>
<path d="M435.5,71.2 436.5,73 437.5,74.5 438.5,76 439.5,77.2 440.5,77 441.5,77.5 442.5,78.4 443.5,78.6 444.5,79.4 445.5,79.4 446.5,79.7 447.5,80 448.5,80 449.5,80.5 450.5,81.6 451.5,82.9 452.5,82.9 453.5,82.9 454.5,82.7 455.5,83.5 456.5,84.5 457.5,84.5 458.5,84.3 459.5,84.1 460.5,84.4 461.5,85.3 462.5,85.2 463.5,85.1 464.5,86.2 465.5,86.7 466.5,87 467.5,87.1 468.5,86.8 469.5,87.4 470.5,87.7 471.5,87.5 472.5,87.3 473.5,86.9 474.5,87.8 475.5,88.3 476.5,87.7 477.5,88.3 478.5,88.5 479.5,87.9 480.5,88.1 481.5,88.7 482.5,89.2 483.5,89.5 484.5,89.9 485.5,89.8 486.5,89.7 487.5,89.9 488.5,89.6 489.5,89.9 490.5,90.4 491.5,91 492.5,91.2 493.5,90.4 494.5,90.5 495.5,90.8 496.5,91.2 497.5,90.8 498.5,90.2 499.5,90.6 500.5,91 501.5,91.2 502.5,90.7 503.5,90.2 504.5,90.9 505.5,92.1 506.5,92.6 507.5,92.1 508.5,91.8 509.5,91.7 510.5,91.1 511.5,91.9 512.5,92.7 513.5,92.2 514.5,91.9 515.5,92.4 516.5,92.7 517.5,92.3 518.5,92.4 519.5,92.5 520.5,92.3 521.5,92.1 522.1,71.2" fill="none" stroke="#000" stroke-width="1.3" stroke-linejoin="round"/>
<path d="M297.6,261.7 298.6,261.5 299.6,261.3 300.6,261.2 301.6,261.3 302.6,260.9 303.6,261.2 304.6,261.3 305.6,261.2 306.6,261.3 307.6,261 308.6,261.3 309.6,260.8 310.6,261.2" fill="none" stroke="#000" stroke-width="2.8" stroke-linejoin="round"/>
<path d="M399.5,261.1 400.5,261.2 401.5,261.1 402.5,261.4 403.5,261 404.5,261.4 405.5,261.4 406.5,261.1 407.5,261.6 408.5,260.9 409.5,261.3 410.5,261.2 411.5,261.4 412.5,260.8" fill="none" stroke="#000" stroke-width="2.8" stroke-linejoin="round"/>
<path d="M311.4,260.1 312.4,260.1 313.4,260.1 314.4,260.1 315.4,260 316.4,259.8 317.4,260 318.4,260.2 319.4,260.3 320.4,260 321.4,260.3 322.4,259.8 323.4,260.3 324.4,259.9 325.4,260.2 326.4,259.9 327.4,259.9 328.4,260 329.4,260.4 330.4,260 331.4,260.2 332.4,260.1 333.4,260.2 334.4,260.2 335.4,260.2 336.4,259.9 337.4,260.1 338.4,260.2 339.4,260 340.4,260.2 341.4,259.9 342.4,260.2 343.4,260 344.4,260 345.4,260.3 346.4,260.3 347.4,260 348.4,260 349.4,260.3 350.4,259.5 351.4,260.4 352.4,260.4 353.4,259.9 354.4,260.3 355.4,260.2 356.4,260.2 357.4,259.6 358.4,260 359.4,260.1 360.4,260 361.4,260 362.4,260 363.4,259.5 364.4,260.1 365.4,260 366.4,260.1 367.4,260 368.4,260.1 369.4,260.2 370.4,260.4 371.4,259.9 372.4,260.4 373.4,260.1 374.4,259.9 375.4,259.8 376.4,260.3 377.4,259.8 378.4,260.3 379.4,260.2 380.4,260 381.4,260 382.4,260.2 383.4,260.1 384.4,260.2 385.4,260.1 386.4,260 387.4,260.2 388.4,259.9 389.4,260.3 390.4,260.1 391.4,259.9 392.4,259.9 393.4,260 394.4,259.7 395.4,260.4 396.4,260.3 397.4,259.9 398.4,260.1 399.4,260.4 399.4,265.8 398.4,266.3 397.4,266.2 396.4,266.2 395.4,266.5 394.4,266 393.4,266 392.4,266.5 391.4,266.3 390.4,266 389.4,266 388.4,266.3 387.4,266.6 386.4,266.3 385.4,265.7 384.4,266.2 383.4,265.8 382.4,266.1 381.4,266.9 380.4,266.2 379.4,266.3 378.4,266.8 377.4,266.1 376.4,266.3 375.4,266 374.4,265.9 373.4,265.9 372.4,265.9 371.4,266.2 370.4,266 369.4,266.4 368.4,266 367.4,265.6 366.4,266.4 365.4,265.9 364.4,265.6 363.4,266.3 362.4,266.4 361.4,265.8 360.4,267 359.4,266.2 358.4,266.1 357.4,266.9 356.4,266.1 355.4,266.3 354.4,266.4 353.4,266.1 352.4,265.9 351.4,265.8 350.4,266.5 349.4,265.8 348.4,266 347.4,265.6 346.4,266 345.4,265.8 344.4,265.9 343.4,265.9 342.4,266 341.4,265.4 340.4,265.6 339.4,265.6 338.4,265.6 337.4,265.4 336.4,265.5 335.4,265.6 334.4,264.6 333.4,264.8 332.4,265.3 331.4,264.5 330.4,265.6 329.4,264.4 328.4,265.2 327.4,265.4 326.4,264.3 325.4,265.1 324.4,265 323.4,264.3 322.4,264.1 321.4,264.9 320.4,264.1 319.4,264 318.4,263.9 317.4,263.9 316.4,264.2 315.4,263.4 314.4,263.9 313.4,264.2 312.4,263.1 311.4,262.9Z" fill="#000"/>
<line x1="311.4" y1="261.2" x2="311.4" y2="275.4" stroke="#000" stroke-width="1.1"/>
<line x1="399.8" y1="261.2" x2="399.8" y2="247" stroke="#000" stroke-width="1.3"/>
<path d="M311.4,261.2 312.4,261.5 313.4,261.9 314.4,262.9 315.4,262.5 316.4,261.6 317.4,262.8 318.4,262.8 319.4,262.3 320.4,261.8 321.4,262.1 322.4,263.2 323.4,263.3 324.4,263 325.4,263 326.4,263.2 327.4,263.5 328.4,263.7 329.4,263.8 330.4,263.5 331.4,263.2 332.4,262.7 333.4,263 334.4,264.5 335.4,264.6 336.4,265.4 337.4,265.2 338.4,264.2 339.4,264.4 340.4,264.4 341.4,264.6 342.4,264.3 343.4,264.2 344.4,265.6 345.4,265.9 346.4,265.5 347.4,265.2 348.4,264.8 349.4,265.5 350.4,265.5 351.4,265.1 352.4,265.1 353.4,265.4 354.4,265.8 355.4,266.3 356.4,265.4 357.4,264.1 358.4,264.6 359.4,265.4 360.4,265.8 361.4,266.2 362.4,265.6 363.4,266 364.4,266.4 365.4,264.9 366.4,265.2 367.4,266 368.4,265.7 369.4,265 370.4,264.7 371.4,265.4 372.4,265.5 373.4,265.7 374.4,266.3 375.4,266.6 376.4,266.6 377.4,265.9 378.4,266.1 379.4,266.3 380.4,265.9 381.4,265.7 382.4,264.9 383.4,264 384.4,264.7 385.4,265.3 386.4,265.2 387.4,265.9 388.4,265.3 389.4,264.2 390.4,264.9 391.4,265.8 392.4,265.5 393.4,265.2 394.4,264.7 395.4,264.8 396.4,265.2 397.4,265.4 398.4,266.1 399.4,265.7 399.8,261.2" fill="none" stroke="#000" stroke-width="1.15" stroke-linejoin="round"/>
<path d="M311.4,261.2 312.4,262.1 313.4,262.5 314.4,262.2 315.4,261.9 316.4,262.3 317.4,262.9 318.4,263.4 319.4,264 320.4,263.2 321.4,262.4 322.4,262.3 323.4,262.3 324.4,262.6 325.4,263.5 326.4,264.6 327.4,264 328.4,264.1 329.4,265 330.4,265.8 331.4,266.1 332.4,265.7 333.4,265.5 334.4,265.9 335.4,266.3 336.4,266 337.4,265.6 338.4,266.4 339.4,266.7 340.4,266.3 341.4,267 342.4,267.2 343.4,267.4 344.4,267 345.4,267 346.4,266.9 347.4,266.1 348.4,266.2 349.4,266.9 350.4,267.1 351.4,266.5 352.4,267.3 353.4,267.5 354.4,267 355.4,267.5 356.4,267.3 357.4,267.4 358.4,267.8 359.4,267.7 360.4,267.8 361.4,267.6 362.4,266.8 363.4,267.1 364.4,267.2 365.4,267.3 366.4,267.6 367.4,267.3 368.4,267.5 369.4,267.9 370.4,266.5 371.4,266.2 372.4,267.4 373.4,267.7 374.4,267.5 375.4,266.8 376.4,267.1 377.4,267.8 378.4,267 379.4,266.1 380.4,266.7 381.4,266.2 382.4,266.2 383.4,267.6 384.4,267.4 385.4,267.1 386.4,267.2 387.4,267.3 388.4,267.9 389.4,268.3 390.4,268 391.4,267.9 392.4,268.1 393.4,267.5 394.4,267.9 395.4,267.8 396.4,267.3 397.4,268.5 398.4,268.8 399.4,267.5 399.8,261.2" fill="none" stroke="#000" stroke-width="1.15" stroke-linejoin="round"/>
<path d="M311.4,261.2 312.4,261.1 313.4,261.6 314.4,262.6 315.4,262.9 316.4,263.7 317.4,262.9 318.4,261.7 319.4,262.1 320.4,262.5 321.4,263.5 322.4,263.8 323.4,263.5 324.4,263.5 325.4,263.7 326.4,264.3 327.4,264.8 328.4,264.7 329.4,265.1 330.4,266.2 331.4,266.7 332.4,266.2 333.4,266.7 334.4,267.8 335.4,267.9 336.4,267.3 337.4,266.8 338.4,267.5 339.4,267.9 340.4,267.5 341.4,268.4 342.4,269.4 343.4,269.4 344.4,269.7 345.4,269.9 346.4,269 347.4,269.1 348.4,269.7 349.4,269.4 350.4,270.1 351.4,270.1 352.4,270.1 353.4,270 354.4,269.2 355.4,269 356.4,269.1 357.4,268.7 358.4,268.7 359.4,269.4 360.4,269.2 361.4,268.4 362.4,267.7 363.4,268.9 364.4,269.4 365.4,269.6 366.4,269.7 367.4,269.3 368.4,269.1 369.4,268.7 370.4,269.1 371.4,269.6 372.4,270.4 373.4,270.6 374.4,269.3 375.4,268.9 376.4,269.4 377.4,269.2 378.4,269.5 379.4,270.4 380.4,269.9 381.4,269.8 382.4,270.5 383.4,269.6 384.4,269.8 385.4,270.9 386.4,270.3 387.4,270.3 388.4,270.3 389.4,270.1 390.4,270.2 391.4,269.4 392.4,269.3 393.4,269.5 394.4,269.2 395.4,268.8 396.4,268.7 397.4,268.7 398.4,269.5 399.4,269.2 399.8,261.2" fill="none" stroke="#000" stroke-width="1.15" stroke-linejoin="round"/>
<path d="M311.4,261.2 312.4,261.9 313.4,262.7 314.4,262.6 315.4,262.7 316.4,263 317.4,263.6 318.4,263.3 319.4,263.2 320.4,264.3 321.4,264.3 322.4,264.6 323.4,265 324.4,264.4 325.4,264.2 326.4,264.5 327.4,264.8 328.4,265.3 329.4,266.7 330.4,267.3 331.4,267.1 332.4,267.1 333.4,267.4 334.4,267.6 335.4,267.7 336.4,269.3 337.4,270.2 338.4,269.3 339.4,269.7 340.4,270.9 341.4,270.5 342.4,270 343.4,269.9 344.4,269.4 345.4,270.6 346.4,272.7 347.4,271.9 348.4,270 349.4,270.9 350.4,272 351.4,271.7 352.4,271.9 353.4,271.6 354.4,271.1 355.4,271.6 356.4,271.4 357.4,271.3 358.4,271.3 359.4,271.3 360.4,271.5 361.4,270.5 362.4,270.5 363.4,270.7 364.4,270.4 365.4,270.3 366.4,270.9 367.4,271.5 368.4,271 369.4,271.6 370.4,272.1 371.4,271.5 372.4,270.4 373.4,270.7 374.4,271.4 375.4,271 376.4,271.4 377.4,271.3 378.4,271 379.4,271.6 380.4,271.9 381.4,271.3 382.4,271.6 383.4,272.3 384.4,272.5 385.4,272 386.4,271.4 387.4,271.8 388.4,271.9 389.4,271.5 390.4,271.3 391.4,271.1 392.4,270.9 393.4,270.8 394.4,271.2 395.4,271.3 396.4,270.6 397.4,270.8 398.4,272 399.4,272.5 399.8,261.2" fill="none" stroke="#000" stroke-width="1.15" stroke-linejoin="round"/>
<path d="M311.4,261.2 312.4,261.8 313.4,262.5 314.4,262.3 315.4,263 316.4,263.1 317.4,262.8 318.4,264 319.4,264.8 320.4,264.4 321.4,264.3 322.4,264.4 323.4,264.6 324.4,265.1 325.4,266.2 326.4,266.6 327.4,266.7 328.4,267.5 329.4,267.9 330.4,268.1 331.4,268.6 332.4,269.3 333.4,269.4 334.4,269.6 335.4,269 336.4,269.8 337.4,271.3 338.4,271.1 339.4,271 340.4,271.5 341.4,271.4 342.4,271.8 343.4,272.6 344.4,272.8 345.4,273 346.4,272 347.4,271.9 348.4,272.6 349.4,272.9 350.4,273.5 351.4,273.5 352.4,273.1 353.4,273.9 354.4,273.9 355.4,272.4 356.4,272.9 357.4,272.7 358.4,273.1 359.4,274.1 360.4,273.9 361.4,273.9 362.4,273.6 363.4,272.6 364.4,272.2 365.4,273 366.4,273.2 367.4,273.1 368.4,272.9 369.4,272.4 370.4,272.8 371.4,273.4 372.4,273.3 373.4,272.6 374.4,272 375.4,273.2 376.4,273.4 377.4,272.2 378.4,272.4 379.4,273.1 380.4,273.1 381.4,272.9 382.4,273.4 383.4,272.7 384.4,272.6 385.4,272.6 386.4,272.5 387.4,273.3 388.4,273.2 389.4,272.6 390.4,272.5 391.4,272.8 392.4,273.1 393.4,272.2 394.4,271.4 395.4,272.5 396.4,273.2 397.4,273 398.4,273.1 399.4,273 399.8,261.2" fill="none" stroke="#000" stroke-width="1.15" stroke-linejoin="round"/>
<path d="M311.4,261.2 312.4,261.5 313.4,262.4 314.4,262.6 315.4,262.4 316.4,263.1 317.4,263.7 318.4,264.3 319.4,264.9 320.4,265 321.4,264.8 322.4,265 323.4,265.5 324.4,266.6 325.4,267.3 326.4,266.9 327.4,266.9 328.4,268.2 329.4,268.7 330.4,268.8 331.4,269.8 332.4,270.5 333.4,270.6 334.4,270.8 335.4,271.7 336.4,272.2 337.4,273 338.4,273.1 339.4,272.7 340.4,273.3 341.4,273.1 342.4,273 343.4,273.3 344.4,273 345.4,272.9 346.4,272.8 347.4,273.9 348.4,274.9 349.4,274.7 350.4,274.9 351.4,274.9 352.4,274.3 353.4,273.9 354.4,274.5 355.4,275.3 356.4,275.5 357.4,274.9 358.4,274.3 359.4,274.1 360.4,274.6 361.4,275.5 362.4,275.2 363.4,275 364.4,274.7 365.4,274.6 366.4,275.1 367.4,275 368.4,274.9 369.4,275.3 370.4,274.5 371.4,273.8 372.4,273.9 373.4,274.5 374.4,274.3 375.4,274.5 376.4,275.5 377.4,275.5 378.4,274.4 379.4,273.2 380.4,274.2 381.4,275.7 382.4,275.2 383.4,274.9 384.4,274.9 385.4,274.5 386.4,275 387.4,275 388.4,274.9 389.4,275.8 390.4,275.4 391.4,275.5 392.4,275 393.4,274.7 394.4,275.2 395.4,275.8 396.4,275.8 397.4,274.5 398.4,275.1 399.4,274.9 399.8,261.2" fill="none" stroke="#000" stroke-width="1.15" stroke-linejoin="round"/>
<path d="M311.4,261.2 312.4,262.4 313.4,262.4 314.4,261.9 315.4,263.2 316.4,264.4 317.4,263.5 318.4,263.6 319.4,264.7 320.4,264.6 321.4,265.5 322.4,266.4 323.4,265.9 324.4,267 325.4,267.7 326.4,267.4 327.4,268.2 328.4,269.4 329.4,270 330.4,270.1 331.4,269.7 332.4,270.9 333.4,271.7 334.4,271.1 335.4,271.5 336.4,273.1 337.4,273.4 338.4,274 339.4,274.4 340.4,274.2 341.4,274 342.4,274 343.4,274.7 344.4,275.5 345.4,275.8 346.4,276.1 347.4,275.3 348.4,274.9 349.4,275.8 350.4,275.5 351.4,275.6 352.4,275.8 353.4,276 354.4,276.2 355.4,276.3 356.4,276.1 357.4,276.4 358.4,276.9 359.4,277.2 360.4,277 361.4,276.1 362.4,276.2 363.4,276.2 364.4,275.8 365.4,276 366.4,276.3 367.4,276.1 368.4,276 369.4,275.8 370.4,276.1 371.4,275.9 372.4,276.5 373.4,277.1 374.4,276.8 375.4,276.3 376.4,276.1 377.4,276.5 378.4,276.7 379.4,277.1 380.4,276.1 381.4,276.2 382.4,276.3 383.4,276.3 384.4,276.9 385.4,275.9 386.4,276.2 387.4,276.7 388.4,276 389.4,275.7 390.4,276.3 391.4,276 392.4,275.5 393.4,276.8 394.4,276.8 395.4,276.2 396.4,276.7 397.4,277 398.4,277.1 399.4,275.7 399.8,261.2" fill="none" stroke="#000" stroke-width="1.15" stroke-linejoin="round"/>
<path d="M419.6,260.8 420.6,260.4 421.6,260 422.6,260.4 423.6,260.8 424.6,260.1 425.6,260.4 426.6,260.1 427.6,260.2 428.6,260.3 429.6,260.4 430.6,260.4 431.6,260.4 432.6,260.9 433.6,260" fill="none" stroke="#000" stroke-width="2.8" stroke-linejoin="round"/>
<path d="M521,260.3 522,259.9 523,260.7 524,260.1 525,259.9 526,260.4 527,260.5 528,260.9 529,259.9 530,260 531,260.2 532,260.2 533,260.3 534,260.1" fill="none" stroke="#000" stroke-width="2.8" stroke-linejoin="round"/>
<path d="M434,259.3 435,259.4 436,259.1 437,259.3 438,259.3 439,259.1 440,259.1 441,259.2 442,259.8 443,259.2 444,259 445,259.2 446,259.1 447,259.4 448,258.8 449,259 450,259.4 451,259.3 452,259.2 453,259.3 454,258.9 455,259.3 456,259 457,258.9 458,259.3 459,259 460,259.1 461,259.3 462,259 463,259.3 464,259.7 465,259.2 466,259.4 467,259.4 468,258.9 469,258.9 470,259.2 471,258.8 472,259.2 473,259.3 474,259.3 475,259.3 476,259.5 477,259.1 478,259.5 479,259.3 480,259.3 481,259.2 482,259.4 483,259.1 484,259.4 485,259.4 486,259.1 487,259 488,259.1 489,259.2 490,259.3 491,259.4 492,259.6 493,259.5 494,259.3 495,259.1 496,259 497,259.4 498,259.3 499,259.1 500,259.2 501,259.2 502,258.7 503,259.2 504,259.3 505,259.2 506,259 507,259.2 508,259.3 509,259.6 510,259.4 511,259.3 512,259.2 513,258.9 514,259.1 515,258.9 516,259.2 517,259.4 518,259.4 519,259.4 520,259.2 521,259.4 521,265.8 520,266 519,265.8 518,265.6 517,265.2 516,265.8 515,265.3 514,265.6 513,265.4 512,265.1 511,265.5 510,265.8 509,265.9 508,265.8 507,265.6 506,265.7 505,265.9 504,266 503,266.2 502,265.8 501,265.4 500,265.3 499,266.2 498,265.9 497,265.5 496,265.7 495,265.2 494,265.6 493,265.2 492,265.9 491,265.7 490,265.8 489,265.8 488,265.8 487,265.8 486,266 485,265.7 484,265.6 483,266.2 482,266.1 481,266 480,265.3 479,265.7 478,265.3 477,266.4 476,265.8 475,265.8 474,265.8 473,266 472,265.7 471,266 470,266.2 469,266.2 468,265.8 467,265.5 466,265.7 465,266.1 464,265.3 463,265.9 462,265.5 461,265.2 460,264.6 459,265 458,264.6 457,264.5 456,264.6 455,265.2 454,264.5 453,264.1 452,264.9 451,264.4 450,265 449,264.4 448,264 447,264.7 446,264.7 445,263.7 444,264 443,264.3 442,264.6 441,263.9 440,264.5 439,263.8 438,263.1 437,263.7 436,263.2 435,263.8 434,263.8Z" fill="#000"/>
<line x1="434" y1="260.3" x2="434" y2="276.6" stroke="#000" stroke-width="1.1"/>
<line x1="521.3" y1="260.3" x2="521.3" y2="245.2" stroke="#000" stroke-width="1.3"/>
<path d="M434,260.3 435,262.1 436,262.3 437,262.3 438,263.1 439,264.4 440,263.6 441,262.5 442,263.1 443,264.1 444,264.5 445,265.3 446,264.9 447,264.1 448,263.9 449,263.9 450,263.4 451,263.2 452,263.8 453,263.5 454,263 455,264.4 456,264.7 457,264.6 458,265.4 459,265.1 460,265 461,264.9 462,264.2 463,264.3 464,264.7 465,264.9 466,264.9 467,264.7 468,265.2 469,265.3 470,264.6 471,265.2 472,264.9 473,264.5 474,265.7 475,265.7 476,265.7 477,265.6 478,264.7 479,264.8 480,264.8 481,264.7 482,264.8 483,265.3 484,265.7 485,265.3 486,264.8 487,266.4 488,266.6 489,265.8 490,265.4 491,264.4 492,265.5 493,265.4 494,264.4 495,264.8 496,265 497,264.9 498,265.3 499,265.8 500,265.9 501,265.6 502,266.1 503,266.7 504,265.9 505,264.4 506,264.2 507,265.5 508,265.7 509,264.9 510,265 511,266 512,266.2 513,265.4 514,265 515,264.7 516,266.3 517,266.8 518,265.6 519,265.5 520,265.9 521,265.6 521.3,260.3" fill="none" stroke="#000" stroke-width="1.15" stroke-linejoin="round"/>
<path d="M434,260.3 435,262.3 436,263.3 437,263.8 438,263.9 439,264.4 440,265.1 441,264.8 442,265.3 443,265.6 444,265.3 445,265.2 446,265.4 447,265.8 448,266.1 449,265.6 450,265.6 451,265.8 452,265.6 453,266.3 454,267 455,266.5 456,265.4 457,265.7 458,266.8 459,266.6 460,267.2 461,266.6 462,266.2 463,267.6 464,267.5 465,266.6 466,266.8 467,267.7 468,267.7 469,267.1 470,266.5 471,267.2 472,267.5 473,266.8 474,266.3 475,266.6 476,266.4 477,266.6 478,267.3 479,266.3 480,266.5 481,267.8 482,267.7 483,266.6 484,266.2 485,267.2 486,266.9 487,266.4 488,267.5 489,267.6 490,266.8 491,267.3 492,268.3 493,268.2 494,266.8 495,265.9 496,266.5 497,266.4 498,266.5 499,267.7 500,266.6 501,266.1 502,267.4 503,267.3 504,267.3 505,267.8 506,268.1 507,269.1 508,268.8 509,267.2 510,266.6 511,266.4 512,267.2 513,268 514,267.9 515,267.8 516,268.3 517,268.7 518,268.5 519,267.7 520,267.1 521,266.8 521.3,260.3" fill="none" stroke="#000" stroke-width="1.15" stroke-linejoin="round"/>
<path d="M434,260.3 435,264.2 436,264 437,264.2 438,265.2 439,266.3 440,266.5 441,266.6 442,266.9 443,266.2 444,266.6 445,267 446,267.5 447,267.5 448,266.7 449,266.8 450,266.8 451,267.4 452,267.5 453,267.9 454,268.3 455,268.5 456,268.4 457,268.4 458,268.9 459,268.3 460,269 461,269.8 462,269 463,268.3 464,268 465,268.1 466,268.3 467,267.9 468,267.9 469,268.2 470,268.9 471,269.6 472,269.7 473,270.4 474,269.9 475,269.8 476,269.8 477,269.2 478,268.6 479,268.4 480,269.5 481,269.8 482,269 483,268.8 484,268.6 485,268.4 486,268.1 487,268.9 488,270.1 489,269.5 490,268.5 491,268.4 492,270 493,269.5 494,268.4 495,268.8 496,269.4 497,269.1 498,268.8 499,269.1 500,268.8 501,268.6 502,269 503,269.4 504,268.9 505,269.6 506,270.1 507,270.7 508,270.7 509,269.7 510,269.6 511,270.8 512,271.3 513,269.9 514,269.5 515,269.4 516,269.6 517,269.6 518,269.1 519,269.5 520,270.4 521,270.6 521.3,260.3" fill="none" stroke="#000" stroke-width="1.15" stroke-linejoin="round"/>
<path d="M434,260.3 435,264.2 436,266.7 437,267.7 438,266.5 439,266.5 440,267.3 441,267.8 442,268.1 443,267 444,266.7 445,267.6 446,267.2 447,267.4 448,268.3 449,269 450,269.1 451,268.5 452,268.6 453,268.9 454,269.5 455,269.2 456,267.8 457,269.6 458,271 459,269.9 460,270.7 461,270.2 462,268.8 463,269.2 464,269.9 465,269.9 466,270.1 467,270.2 468,270.5 469,271 470,269.7 471,269.5 472,269.8 473,269.8 474,270.3 475,271.5 476,271.4 477,269.7 478,269.9 479,270.1 480,271 481,271.9 482,271.8 483,271.3 484,270.1 485,270.5 486,270.4 487,269.8 488,270.1 489,270.5 490,270.2 491,269.4 492,270.8 493,271.5 494,270.8 495,271.3 496,271.6 497,271.1 498,270.7 499,271.7 500,272.5 501,272.2 502,272.4 503,271.2 504,270.5 505,271.3 506,270.3 507,270.6 508,271.8 509,271.8 510,270.7 511,270.5 512,271.4 513,271.4 514,271.5 515,271.8 516,272.4 517,272.3 518,272.8 519,272.8 520,271.8 521,272 521.3,260.3" fill="none" stroke="#000" stroke-width="1.15" stroke-linejoin="round"/>
<path d="M434,260.3 435,264.8 436,267.9 437,268.2 438,268.5 439,268.7 440,268.4 441,268.3 442,268.5 443,269.3 444,270.2 445,269.9 446,270 447,269.9 448,269.4 449,270.3 450,271.3 451,270.5 452,270.6 453,271.4 454,271.8 455,271.6 456,271.6 457,271.2 458,271.6 459,272.2 460,272.1 461,271.2 462,271.1 463,272.1 464,272.3 465,270.8 466,269.7 467,271.1 468,271.6 469,271.7 470,272.1 471,272.4 472,272.3 473,271.4 474,272 475,272.4 476,271.7 477,270.9 478,273 479,273.8 480,272.2 481,271.5 482,271.2 483,272.1 484,272.8 485,273.2 486,272.8 487,272.7 488,273.6 489,273.2 490,272.6 491,272.1 492,271.8 493,272 494,272.7 495,273.3 496,273.7 497,273.9 498,273.6 499,273.8 500,273.5 501,272.8 502,273.5 503,274 504,272.4 505,272.2 506,272.5 507,273.4 508,274.4 509,274.6 510,275.1 511,274.1 512,272.2 513,272.1 514,273.2 515,272.4 516,271.9 517,273.6 518,273.5 519,273.1 520,273 521,273.9 521.3,260.3" fill="none" stroke="#000" stroke-width="1.15" stroke-linejoin="round"/>
<path d="M434,260.3 435,265.8 436,268 437,269.4 438,270.2 439,271 440,270.8 441,270 442,270.1 443,271.5 444,272.1 445,271.6 446,272 447,272.4 448,273 449,272.2 450,271.3 451,272.2 452,272.6 453,272.2 454,271.2 455,271.4 456,271.9 457,272.1 458,273.1 459,273.5 460,272.6 461,272 462,272.7 463,273.7 464,273.7 465,273.3 466,272.7 467,272.5 468,272.9 469,273.3 470,273.6 471,273.1 472,272.8 473,273.4 474,273.7 475,274.2 476,274.6 477,274 478,274.4 479,274 480,274.1 481,274.3 482,274.3 483,274.4 484,273.6 485,273.1 486,273.6 487,274.8 488,274.1 489,274.8 490,275.4 491,274.1 492,275.1 493,275.4 494,275.2 495,274.2 496,274.5 497,275.9 498,275 499,275 500,274.5 501,274.8 502,275.6 503,275.4 504,274.9 505,274.2 506,274.7 507,275.6 508,275.6 509,275.1 510,274.8 511,275.3 512,276.2 513,275.8 514,274.8 515,276 516,275.7 517,274.7 518,275.4 519,275.9 520,275.9 521,274.5 521.3,260.3" fill="none" stroke="#000" stroke-width="1.15" stroke-linejoin="round"/>
<path d="M297.3,308.4 298.3,308.5 299.3,308.2 300.3,308.2 301.3,308.4 302.3,308.4 303.3,308.6 304.3,308.3 305.3,309 306.3,308.2 307.3,308.8 308.3,308.8 309.3,309 310.3,309 311.3,308.3" fill="none" stroke="#000" stroke-width="3" stroke-linejoin="round"/>
<path d="M400,308.9 401,308.7 402,308.5 403,308.9 404,308.6 405,308.5 406,308.7 407,308.5 408,308.4 409,308.6 410,309.3 411,308.7 412,308.6 413,308.5" fill="none" stroke="#000" stroke-width="3" stroke-linejoin="round"/>
<path d="M312.2,307.6 313.2,307.6 314.2,307.5 315.2,307.6 316.2,307.5 317.2,307.7 318.2,307.6 319.2,307.6 320.2,307.5 321.2,307.7 322.2,307.5 323.2,307.8 324.2,307.5 325.2,307.8 326.2,307.6 327.2,307.5 328.2,307.3 329.2,307.6 330.2,307.6 331.2,307.5 332.2,307.6 333.2,307.5 334.2,307.3 335.2,307.3 336.2,307.6 337.2,307.6 338.2,307.8 339.2,307.9 340.2,307.7 341.2,307.6 342.2,307.6 343.2,307.5 344.2,307.4 345.2,307 346.2,307.7 347.2,307.6 348.2,307.5 349.2,307.5 350.2,307.7 351.2,307.7 352.2,307.6 353.2,307.5 354.2,307.6 355.2,307.7 356.2,308 357.2,307.3 358.2,307.6 359.2,307.3 360.2,307.4 361.2,308 362.2,307.4 363.2,307.5 364.2,307.4 365.2,307.7 366.2,307.4 367.2,307.2 368.2,307.5 369.2,307.7 370.2,307.5 371.2,307.5 372.2,307.4 373.2,307.3 374.2,307.5 375.2,307.3 376.2,307.4 377.2,307.3 378.2,307.5 379.2,307.7 380.2,307.5 381.2,307.7 382.2,307.6 383.2,307.5 384.2,307.3 385.2,307.5 386.2,307.3 387.2,307.7 388.2,307.2 389.2,307.2 390.2,307.3 391.2,307.2 392.2,307.5 393.2,307.4 394.2,307.4 395.2,307.6 396.2,307.1 397.2,307.5 398.2,307.6 399.2,307.7 399.2,314.7 398.2,314.3 397.2,314.2 396.2,314.1 395.2,314.7 394.2,314.7 393.2,314.6 392.2,314.6 391.2,314.5 390.2,315 389.2,314.9 388.2,314.8 387.2,314.4 386.2,314 385.2,314.3 384.2,314.6 383.2,314.1 382.2,314 381.2,314.1 380.2,314.6 379.2,314.7 378.2,313.8 377.2,314.3 376.2,314.2 375.2,314.7 374.2,314.3 373.2,314.2 372.2,314.9 371.2,314.8 370.2,314.4 369.2,314.3 368.2,314 367.2,314.2 366.2,313.7 365.2,314.2 364.2,313.8 363.2,314.8 362.2,314.6 361.2,314.3 360.2,314.5 359.2,314.7 358.2,314.5 357.2,314.9 356.2,314.6 355.2,314.9 354.2,314.4 353.2,313.7 352.2,314.7 351.2,314.1 350.2,314.4 349.2,314.6 348.2,314.4 347.2,314.2 346.2,314.1 345.2,314.1 344.2,314.5 343.2,313.8 342.2,313.8 341.2,314 340.2,314.3 339.2,314.2 338.2,314 337.2,314 336.2,313.9 335.2,313.5 334.2,313.6 333.2,312.9 332.2,313 331.2,312.8 330.2,313.8 329.2,312.8 328.2,313.4 327.2,312.9 326.2,312.8 325.2,313.2 324.2,312.2 323.2,312.9 322.2,311.5 321.2,312.8 320.2,312.5 319.2,311.7 318.2,312.1 317.2,312.4 316.2,311.8 315.2,312.5 314.2,312.5 313.2,311.9 312.2,311.9Z" fill="#000"/>
<line x1="312.2" y1="308.6" x2="312.2" y2="336.4" stroke="#000" stroke-width="1.1"/>
<line x1="400.3" y1="308.6" x2="400.3" y2="288.4" stroke="#000" stroke-width="1.3"/>
<path d="M312.2,308.6 313.2,309.3 314.2,308.7 315.2,310.1 316.2,310 317.2,310 318.2,309.5 319.2,308.9 320.2,310.2 321.2,311.4 322.2,311.7 323.2,310 324.2,308.6 325.2,309.2 326.2,310.8 327.2,312 328.2,312.3 329.2,312.5 330.2,311.6 331.2,311.2 332.2,311.2 333.2,312.1 334.2,312.1 335.2,311.8 336.2,313 337.2,313.9 338.2,313.5 339.2,313.1 340.2,313.2 341.2,313.7 342.2,314.3 343.2,313.7 344.2,313.4 345.2,313.4 346.2,313.7 347.2,313.9 348.2,315.1 349.2,315 350.2,314.5 351.2,315.7 352.2,315 353.2,313.2 354.2,314.3 355.2,314.6 356.2,313.9 357.2,314.9 358.2,315.6 359.2,315.6 360.2,315 361.2,315.8 362.2,316.4 363.2,317 364.2,316.4 365.2,315.2 366.2,315.7 367.2,316.1 368.2,316.3 369.2,316 370.2,317.1 371.2,317 372.2,316 373.2,316.3 374.2,315.6 375.2,316 376.2,315.2 377.2,315.5 378.2,315.7 379.2,314.8 380.2,315.8 381.2,315.7 382.2,315.3 383.2,316.4 384.2,318.1 385.2,318 386.2,316.7 387.2,315.7 388.2,315.1 389.2,316.2 390.2,317.2 391.2,317.3 392.2,317.4 393.2,317.4 394.2,316.4 395.2,315.1 396.2,314.9 397.2,315.3 398.2,315.8 399.2,315.9 400.3,308.6" fill="none" stroke="#000" stroke-width="1.2" stroke-linejoin="round"/>
<path d="M312.2,308.6 313.2,307.4 314.2,309.4 315.2,310.2 316.2,310.4 317.2,310.3 318.2,310.3 319.2,310.3 320.2,311.2 321.2,311 322.2,310.8 323.2,311.3 324.2,311.6 325.2,311.7 326.2,311.8 327.2,311 328.2,310.8 329.2,312.7 330.2,313.5 331.2,312.7 332.2,312 333.2,313.1 334.2,314.1 335.2,314.4 336.2,314.5 337.2,314.6 338.2,315.4 339.2,315.1 340.2,313.8 341.2,315.3 342.2,315.9 343.2,315.9 344.2,316.1 345.2,315.3 346.2,316.8 347.2,317.6 348.2,315.9 349.2,316 350.2,316.9 351.2,317 352.2,317.3 353.2,316.9 354.2,316.7 355.2,317.7 356.2,318.4 357.2,318.2 358.2,317.4 359.2,316.2 360.2,317.7 361.2,318.2 362.2,317.1 363.2,317.8 364.2,318.4 365.2,318.4 366.2,317.7 367.2,317.7 368.2,319.5 369.2,321 370.2,319.7 371.2,318.6 372.2,317.7 373.2,317.4 374.2,318.9 375.2,318.6 376.2,319.3 377.2,320 378.2,319.3 379.2,317.2 380.2,316.5 381.2,318.5 382.2,318.6 383.2,317.1 384.2,317 385.2,319 386.2,319.8 387.2,319.4 388.2,319.1 389.2,319.5 390.2,317.7 391.2,316 392.2,318.9 393.2,320.2 394.2,319.2 395.2,318.4 396.2,317.2 397.2,317.1 398.2,318.1 399.2,317.8 400.3,308.6" fill="none" stroke="#000" stroke-width="1.2" stroke-linejoin="round"/>
<path d="M312.2,308.6 313.2,309.4 314.2,309.8 315.2,311.3 316.2,310.9 317.2,309.4 318.2,311.1 319.2,312 320.2,310.6 321.2,309.6 322.2,310.7 323.2,311 324.2,311 325.2,311.5 326.2,312.1 327.2,313.2 328.2,312.6 329.2,312.9 330.2,314.1 331.2,314.1 332.2,314.4 333.2,315.8 334.2,315.3 335.2,314.9 336.2,316.1 337.2,315.6 338.2,317 339.2,317.4 340.2,317.4 341.2,318.7 342.2,318.1 343.2,318.7 344.2,320 345.2,318.9 346.2,318.5 347.2,318.5 348.2,318.7 349.2,319.9 350.2,320.5 351.2,320.2 352.2,319.5 353.2,319.1 354.2,318.9 355.2,319.2 356.2,320.3 357.2,320.2 358.2,319.5 359.2,319.3 360.2,320.1 361.2,320.7 362.2,319.4 363.2,320.3 364.2,321.9 365.2,321.3 366.2,320.5 367.2,320.5 368.2,320.2 369.2,320.8 370.2,322.2 371.2,322.3 372.2,321.6 373.2,321.1 374.2,321.3 375.2,322.2 376.2,321.4 377.2,320.4 378.2,320.5 379.2,319.8 380.2,320.4 381.2,321.8 382.2,321 383.2,320.9 384.2,322 385.2,321.6 386.2,322.1 387.2,321.4 388.2,321.5 389.2,321.7 390.2,321.1 391.2,320.4 392.2,320.6 393.2,321.6 394.2,320.7 395.2,320 396.2,320.5 397.2,321.9 398.2,322.1 399.2,321.1 400.3,308.6" fill="none" stroke="#000" stroke-width="1.2" stroke-linejoin="round"/>
<path d="M312.2,308.6 313.2,309.8 314.2,310.8 315.2,310.3 316.2,310.2 317.2,310.9 318.2,311.8 319.2,312.4 320.2,311.9 321.2,310.6 322.2,310.9 323.2,311.1 324.2,311.7 325.2,312.5 326.2,312.4 327.2,312.9 328.2,314.4 329.2,315.2 330.2,314.7 331.2,314.6 332.2,315.6 333.2,316.4 334.2,316.4 335.2,315.7 336.2,316.5 337.2,317.1 338.2,317 339.2,317.9 340.2,319 341.2,319.2 342.2,319.1 343.2,319.6 344.2,319.5 345.2,320.4 346.2,320.8 347.2,320.8 348.2,321.5 349.2,320.3 350.2,319.4 351.2,318.8 352.2,320.1 353.2,322.3 354.2,322 355.2,321.6 356.2,321.9 357.2,321.9 358.2,322.2 359.2,322.6 360.2,322.2 361.2,323.1 362.2,324.4 363.2,323.3 364.2,324.1 365.2,325.8 366.2,325.3 367.2,324.6 368.2,323.5 369.2,322.7 370.2,322.1 371.2,322.1 372.2,323.6 373.2,323.6 374.2,322.1 375.2,323.3 376.2,325.5 377.2,325.5 378.2,323.4 379.2,323 380.2,323.4 381.2,322.8 382.2,323.8 383.2,324.8 384.2,324 385.2,322.9 386.2,322.5 387.2,322.7 388.2,322.9 389.2,322.6 390.2,323.6 391.2,323.9 392.2,323.5 393.2,323.7 394.2,324.1 395.2,324.8 396.2,323.6 397.2,321.8 398.2,322.8 399.2,324.2 400.3,308.6" fill="none" stroke="#000" stroke-width="1.2" stroke-linejoin="round"/>
<path d="M312.2,308.6 313.2,309.7 314.2,310.5 315.2,309.8 316.2,310.8 317.2,311.3 318.2,311.8 319.2,312 320.2,312.8 321.2,312.7 322.2,312.3 323.2,313 324.2,313.7 325.2,314 326.2,314 327.2,312.9 328.2,312.4 329.2,315.7 330.2,316.8 331.2,316.3 332.2,317.2 333.2,319 334.2,318.3 335.2,317.3 336.2,318.2 337.2,319.1 338.2,319.4 339.2,318.5 340.2,318.5 341.2,320.2 342.2,321.7 343.2,322.2 344.2,321.5 345.2,320.7 346.2,321.7 347.2,323.1 348.2,323.9 349.2,323.6 350.2,322.9 351.2,323.4 352.2,323.9 353.2,324.5 354.2,326 355.2,325.7 356.2,324.1 357.2,325.6 358.2,326.8 359.2,325.8 360.2,325.6 361.2,325.4 362.2,325.5 363.2,325.6 364.2,324.7 365.2,324.2 366.2,325.1 367.2,325.7 368.2,325.9 369.2,326.1 370.2,324.9 371.2,324.1 372.2,324.8 373.2,325.5 374.2,325.8 375.2,326.9 376.2,326.8 377.2,325.5 378.2,324.8 379.2,326.1 380.2,327.1 381.2,325.9 382.2,325.5 383.2,325.6 384.2,325.8 385.2,326.5 386.2,326.2 387.2,325.2 388.2,325.4 389.2,326 390.2,326.5 391.2,326.8 392.2,326.9 393.2,326.7 394.2,326.4 395.2,326.6 396.2,326.8 397.2,326.5 398.2,325.2 399.2,324.8 400.3,308.6" fill="none" stroke="#000" stroke-width="1.2" stroke-linejoin="round"/>
<path d="M419.5,309 420.5,308.9 421.5,308.7 422.5,309 423.5,308.2 424.5,308.9 425.5,308.1 426.5,308.6 427.5,308.6 428.5,308.7 429.5,308.8 430.5,308.8 431.5,308.4 432.5,308.4 433.5,308.4" fill="none" stroke="#000" stroke-width="3" stroke-linejoin="round"/>
<path d="M521.8,308.2 522.8,308.8 523.8,308.3 524.8,308.5 525.8,308.4 526.8,308.4 527.8,308.7 528.8,308.4 529.8,308.2 530.8,308.4 531.8,308.3 532.8,308.2 533.8,308.8 534.8,308.9" fill="none" stroke="#000" stroke-width="3" stroke-linejoin="round"/>
<path d="M433.8,307.9 434.8,307.2 435.8,307.6 436.8,307.4 437.8,307.7 438.8,306.9 439.8,307.6 440.8,307.4 441.8,307.6 442.8,307.7 443.8,307 444.8,307.5 445.8,307.5 446.8,307.6 447.8,307.7 448.8,307.7 449.8,307.3 450.8,307.6 451.8,307.3 452.8,307.7 453.8,307.5 454.8,307.5 455.8,307.5 456.8,307.2 457.8,307.4 458.8,307.3 459.8,307.7 460.8,307.8 461.8,307.2 462.8,307 463.8,307.5 464.8,307.4 465.8,307.3 466.8,308 467.8,307.4 468.8,307.3 469.8,307.4 470.8,307.6 471.8,307.8 472.8,307.6 473.8,307.2 474.8,307.4 475.8,307.9 476.8,307.2 477.8,307.5 478.8,307.7 479.8,307.6 480.8,307.5 481.8,307.3 482.8,307.5 483.8,307.6 484.8,307.5 485.8,307.7 486.8,307.5 487.8,307.8 488.8,307.5 489.8,307.7 490.8,307.4 491.8,307.9 492.8,307.8 493.8,307.6 494.8,307.3 495.8,307.5 496.8,306.9 497.8,307.4 498.8,307.5 499.8,307.3 500.8,307.5 501.8,307.6 502.8,307.9 503.8,307.5 504.8,307.2 505.8,307 506.8,307.5 507.8,307.7 508.8,307.7 509.8,307.5 510.8,307.4 511.8,307.4 512.8,307.5 513.8,307.5 514.8,307.6 515.8,307.5 516.8,307.9 517.8,307.5 518.8,307.6 519.8,307.7 520.8,307.7 521.8,307.4 521.8,313.5 520.8,313.5 519.8,313.2 518.8,313.7 517.8,313.9 516.8,313.2 515.8,314.2 514.8,313.1 513.8,313.7 512.8,313.5 511.8,313 510.8,313.4 509.8,314 508.8,313.2 507.8,313.1 506.8,313 505.8,313.7 504.8,313.7 503.8,313.3 502.8,313.9 501.8,314.1 500.8,314.3 499.8,313.6 498.8,313.9 497.8,313.1 496.8,313.2 495.8,313.1 494.8,313.3 493.8,313.8 492.8,313.9 491.8,313.7 490.8,313.1 489.8,313.6 488.8,313.9 487.8,313.9 486.8,313.4 485.8,313.2 484.8,312.8 483.8,313.6 482.8,313.6 481.8,313.8 480.8,313.9 479.8,313.8 478.8,313.4 477.8,313.7 476.8,313.8 475.8,313.7 474.8,313.7 473.8,313.8 472.8,313.7 471.8,313.3 470.8,313.7 469.8,313.1 468.8,314 467.8,313.4 466.8,313.5 465.8,313.4 464.8,313.3 463.8,313.5 462.8,313.1 461.8,312.8 460.8,313.2 459.8,313.3 458.8,312.9 457.8,313.1 456.8,312.6 455.8,312.4 454.8,313.3 453.8,313.4 452.8,312.7 451.8,312.9 450.8,312.4 449.8,313.4 448.8,312.5 447.8,312.6 446.8,312.3 445.8,312.5 444.8,312 443.8,312.5 442.8,312.3 441.8,312.6 440.8,313.2 439.8,313.2 438.8,312 437.8,312.6 436.8,312.4 435.8,312.2 434.8,312.3 433.8,312.1Z" fill="#000"/>
<line x1="433.8" y1="308.6" x2="433.8" y2="336.8" stroke="#000" stroke-width="1.1"/>
<line x1="522.1" y1="308.6" x2="522.1" y2="290" stroke="#000" stroke-width="1.3"/>
<path d="M433.8,308.6 434.8,309.5 435.8,311.2 436.8,311.4 437.8,313 438.8,313.3 439.8,314.2 440.8,314.4 441.8,313.1 442.8,314.8 443.8,316 444.8,314.5 445.8,313.9 446.8,313.8 447.8,314 448.8,313.5 449.8,315.2 450.8,317.2 451.8,313.7 452.8,311.8 453.8,313.8 454.8,314.2 455.8,312.4 456.8,313.6 457.8,314.6 458.8,314.6 459.8,316.2 460.8,317 461.8,315.8 462.8,316.1 463.8,315.9 464.8,315.6 465.8,317.8 466.8,316.8 467.8,314.9 468.8,316 469.8,317.8 470.8,314.9 471.8,311.8 472.8,312.8 473.8,314.4 474.8,315.7 475.8,316.6 476.8,316.3 477.8,315.7 478.8,316.3 479.8,316.3 480.8,314.1 481.8,312.4 482.8,314.3 483.8,316 484.8,314 485.8,313.7 486.8,315 487.8,316.4 488.8,314.8 489.8,313.9 490.8,316.5 491.8,317.3 492.8,317.4 493.8,318.8 494.8,317.3 495.8,315 496.8,316.7 497.8,318.8 498.8,318.1 499.8,316.4 500.8,315 501.8,315.9 502.8,317.3 503.8,315.8 504.8,315 505.8,315.1 506.8,316.1 507.8,316.9 508.8,317.5 509.8,318.9 510.8,318 511.8,317.9 512.8,318.6 513.8,318.9 514.8,317.5 515.8,316.7 516.8,318.8 517.8,318.9 518.8,316.8 519.8,316.5 520.8,318.9 521.8,318.4 522.1,308.6" fill="none" stroke="#000" stroke-width="1.2" stroke-linejoin="round"/>
<path d="M433.8,308.6 434.8,310.6 435.8,313 436.8,315.1 437.8,315.6 438.8,313.3 439.8,313.4 440.8,313.7 441.8,315.6 442.8,316.2 443.8,316.7 444.8,318 445.8,318.7 446.8,318.2 447.8,317.2 448.8,315.5 449.8,314.5 450.8,315.8 451.8,317.4 452.8,318.1 453.8,317.7 454.8,317.3 455.8,315.6 456.8,316.3 457.8,318.7 458.8,318.8 459.8,319.2 460.8,319 461.8,317.3 462.8,317.4 463.8,317.5 464.8,317.3 465.8,317.4 466.8,317.3 467.8,316.7 468.8,318.8 469.8,320.6 470.8,319 471.8,317.7 472.8,316.6 473.8,317.8 474.8,318.6 475.8,319.9 476.8,319 477.8,317.6 478.8,320.3 479.8,319.5 480.8,320.3 481.8,321.8 482.8,320.8 483.8,319.2 484.8,319.2 485.8,321 486.8,320.2 487.8,320.9 488.8,321.2 489.8,317.5 490.8,317.5 491.8,321.2 492.8,320.4 493.8,319.5 494.8,319.5 495.8,318.8 496.8,316.9 497.8,315.3 498.8,317.5 499.8,318.7 500.8,317.2 501.8,318.4 502.8,320.5 503.8,319 504.8,316.8 505.8,318.2 506.8,319.6 507.8,319.8 508.8,321.3 509.8,320.3 510.8,319 511.8,320 512.8,320 513.8,317.5 514.8,318.3 515.8,320.4 516.8,319.3 517.8,319.5 518.8,319.7 519.8,318.8 520.8,319.9 521.8,319 522.1,308.6" fill="none" stroke="#000" stroke-width="1.2" stroke-linejoin="round"/>
<path d="M433.8,308.6 434.8,310.6 435.8,312.8 436.8,313.4 437.8,315.6 438.8,317.9 439.8,317.6 440.8,318.3 441.8,318.1 442.8,316.9 443.8,317.6 444.8,318.4 445.8,317.2 446.8,315.8 447.8,317.8 448.8,319.7 449.8,318.3 450.8,316.9 451.8,318.2 452.8,320 453.8,320.2 454.8,320.4 455.8,318.8 456.8,319.5 457.8,319 458.8,317.1 459.8,318.6 460.8,320.8 461.8,322 462.8,321.3 463.8,320.3 464.8,320.6 465.8,320.6 466.8,320.1 467.8,320.8 468.8,320.9 469.8,320.3 470.8,321.9 471.8,322.4 472.8,320.9 473.8,321.4 474.8,321.8 475.8,321.8 476.8,321.2 477.8,319.9 478.8,319.5 479.8,321.2 480.8,323.9 481.8,324 482.8,323.1 483.8,322.2 484.8,321.7 485.8,322.1 486.8,322.2 487.8,320.8 488.8,321.9 489.8,323.6 490.8,323.2 491.8,322.4 492.8,321.6 493.8,321.8 494.8,322.3 495.8,321.2 496.8,320.6 497.8,320.8 498.8,322.2 499.8,322 500.8,319.9 501.8,320.3 502.8,321.6 503.8,321.6 504.8,323 505.8,324.5 506.8,320.8 507.8,320.3 508.8,322.8 509.8,321.5 510.8,321.1 511.8,322.4 512.8,321.9 513.8,321.7 514.8,322.6 515.8,322.3 516.8,321.9 517.8,321.3 518.8,321.9 519.8,322.4 520.8,323 521.8,325.4 522.1,308.6" fill="none" stroke="#000" stroke-width="1.2" stroke-linejoin="round"/>
<path d="M433.8,308.6 434.8,313.5 435.8,314.6 436.8,316.6 437.8,317.5 438.8,319.1 439.8,320.8 440.8,320.3 441.8,319.8 442.8,319.6 443.8,320.8 444.8,321.3 445.8,320.6 446.8,322.5 447.8,322.8 448.8,321.1 449.8,320.9 450.8,322.5 451.8,322.4 452.8,321 453.8,322.6 454.8,324.3 455.8,324.7 456.8,323 457.8,322.3 458.8,322.7 459.8,322.8 460.8,322 461.8,321.6 462.8,324.1 463.8,324.6 464.8,321.5 465.8,322.3 466.8,325 467.8,323.9 468.8,323.7 469.8,323.7 470.8,324.8 471.8,325.2 472.8,322.8 473.8,322.1 474.8,325.1 475.8,327 476.8,326.3 477.8,324.6 478.8,324.5 479.8,326.2 480.8,325.8 481.8,325.6 482.8,326.6 483.8,326.9 484.8,326.4 485.8,325.9 486.8,324.4 487.8,323.8 488.8,325.7 489.8,327.6 490.8,327 491.8,326.5 492.8,326.4 493.8,324.6 494.8,325 495.8,326.3 496.8,325.1 497.8,324 498.8,324.8 499.8,325.2 500.8,325.6 501.8,324.9 502.8,325.2 503.8,325.9 504.8,325.5 505.8,324.7 506.8,325.2 507.8,326.8 508.8,327.9 509.8,326.3 510.8,322.7 511.8,324.9 512.8,327.4 513.8,325.1 514.8,324.8 515.8,327.3 516.8,328.1 517.8,327.4 518.8,324.7 519.8,322.9 520.8,326.2 521.8,328.3 522.1,308.6" fill="none" stroke="#000" stroke-width="1.2" stroke-linejoin="round"/>
<text x="256.98" y="27.8" font-size="9.74" font-style="italic" textLength="30.55" lengthAdjust="spacingAndGlyphs">gpa1-1</text>
<text x="257.78" y="75.7" font-size="9.88" font-style="italic" textLength="30.97" lengthAdjust="spacingAndGlyphs">gpa1-2</text>
<text x="259.08" y="265.9" font-size="9.88" font-style="italic" textLength="30.45" lengthAdjust="spacingAndGlyphs">gpa1-1</text>
<text x="260.08" y="313.9" font-size="9.45" font-style="italic" textLength="30.26" lengthAdjust="spacingAndGlyphs">gpa1-2</text>
<text x="339.93" y="10.3" font-size="9.66" textLength="33.31" lengthAdjust="spacingAndGlyphs">control</text>
<text x="469.28" y="10" font-size="10.32" textLength="19.76" lengthAdjust="spacingAndGlyphs">ATP</text>
<text x="339.23" y="247.7" font-size="9.25" textLength="33.31" lengthAdjust="spacingAndGlyphs">control</text>
<text x="468.48" y="247.8" font-size="10.17" textLength="18.83" lengthAdjust="spacingAndGlyphs">ATP</text>
<text x="240.64" y="30.2" font-size="11.2" font-weight="bold" textLength="8.09" lengthAdjust="spacingAndGlyphs">C</text>
<text x="244.84" y="258.7" font-size="11.2" font-weight="bold" textLength="8.71" lengthAdjust="spacingAndGlyphs">G</text>
<path d="M427.7,37.6 L427.7,56.3 L456.9,56.3" fill="none" stroke="#1a1a1a" stroke-width="1.25"/>
<text transform="translate(424.4,59.2) rotate(-90)" x="-0.57" y="0" font-size="8" style="stroke-width:0.3px" textLength="23.79" lengthAdjust="spacingAndGlyphs">100 pA</text>
<text x="433.18" y="65.8" font-size="8.02" textLength="18.03" lengthAdjust="spacingAndGlyphs" style="stroke-width:0.3px">0.5 s</text>
<path d="M421.9,275.4 L421.9,294.2 L450.3,294.2" fill="none" stroke="#1a1a1a" stroke-width="1.25"/>
<text transform="translate(418.8,297.2) rotate(-90)" x="-0.59" y="0" font-size="8" style="stroke-width:0.3px" textLength="24.61" lengthAdjust="spacingAndGlyphs">100 pA</text>
<text x="427.08" y="303.7" font-size="8.02" textLength="18.03" lengthAdjust="spacingAndGlyphs" style="stroke-width:0.3px">0.5 s</text>
<line x1="300.5" y1="125.9" x2="390.5" y2="125.9" stroke="#666" stroke-width="1"/>
<line x1="300.5" y1="125.9" x2="300.5" y2="124.3" stroke="#666" stroke-width="1"/>
<line x1="340.7" y1="125.9" x2="340.7" y2="124.3" stroke="#666" stroke-width="1"/>
<line x1="380.9" y1="125.9" x2="380.9" y2="124.3" stroke="#666" stroke-width="1"/>
<line x1="320.6" y1="125.9" x2="320.6" y2="124.7" stroke="#666" stroke-width="1"/>
<line x1="360.8" y1="125.9" x2="360.8" y2="124.7" stroke="#666" stroke-width="1"/>
<line x1="390.5" y1="125.4" x2="390.5" y2="218.2" stroke="#666" stroke-width="1"/>
<line x1="390.5" y1="139.1" x2="391.7" y2="139.1" stroke="#666" stroke-width="1"/>
<line x1="390.5" y1="165.2" x2="391.7" y2="165.2" stroke="#666" stroke-width="1"/>
<line x1="390.5" y1="191.3" x2="391.7" y2="191.3" stroke="#666" stroke-width="1"/>
<line x1="390.5" y1="217.4" x2="391.7" y2="217.4" stroke="#666" stroke-width="1"/>
<text x="290.88" y="123" font-size="9.02" textLength="18.99" lengthAdjust="spacingAndGlyphs">-200</text>
<text x="331.1" y="123" font-size="9.02" textLength="18.16" lengthAdjust="spacingAndGlyphs">-100</text>
<text x="378.26" y="123" font-size="9.02" textLength="6.28" lengthAdjust="spacingAndGlyphs">0</text>
<text x="285.46" y="136.26" font-size="8.91" textLength="34.73" lengthAdjust="spacingAndGlyphs" style="stroke-width:0.3px">Vm(mV)</text>
<text x="394.41" y="142.2" font-size="9.45" textLength="5.58" lengthAdjust="spacingAndGlyphs">0</text>
<text x="392.07" y="168.3" font-size="9.02" textLength="14.01" lengthAdjust="spacingAndGlyphs">-50</text>
<text x="392.11" y="194.6" font-size="9.17" textLength="17.64" lengthAdjust="spacingAndGlyphs">-100</text>
<text x="392.11" y="220.7" font-size="9.17" textLength="17.64" lengthAdjust="spacingAndGlyphs">-150</text>
<text x="351.45" y="178.9" font-size="7.31" textLength="24.91" lengthAdjust="spacingAndGlyphs" style="stroke-width:0.3px">control</text>
<text x="351.78" y="189.5" font-size="8.29" textLength="15.02" lengthAdjust="spacingAndGlyphs" style="stroke-width:0.3px">ATP</text>
<text x="321.78" y="211.1" font-size="9.88" font-style="italic" textLength="30.96" lengthAdjust="spacingAndGlyphs">gpa1-1</text>
<text transform="translate(382.9,215.2) rotate(-90)" x="-0.85" y="0" font-size="9" textLength="19.92" lengthAdjust="spacingAndGlyphs">I(pA)</text>
<path d="M300.5,189.3 L308.54,180 L316.58,170.2 L324.62,165.3 L332.66,158.5 L340.7,155.5 L348.74,145 L356.78,144.6 L364.82,142.8 L372.86,139.4 L380.9,139.1" fill="none" stroke="#222" stroke-width="0.8"/>
<path d="M300.5,191.6 L308.54,175.3 L316.58,163 L324.62,158.5 L332.66,157 L340.7,151 L348.74,149 L356.78,148.8 L364.82,139.8 L372.86,139.2 L380.9,139.1" fill="none" stroke="#222" stroke-width="0.8"/>
<line x1="300.5" y1="178.8" x2="300.5" y2="199.6" stroke="#666" stroke-width="0.7"/>
<line x1="299.6" y1="178.8" x2="301.4" y2="178.8" stroke="#666" stroke-width="0.7"/>
<line x1="299.6" y1="199.6" x2="301.4" y2="199.6" stroke="#666" stroke-width="0.7"/>
<line x1="308.54" y1="167.5" x2="308.54" y2="191.6" stroke="#666" stroke-width="0.7"/>
<line x1="307.64" y1="167.5" x2="309.44" y2="167.5" stroke="#666" stroke-width="0.7"/>
<line x1="307.64" y1="191.6" x2="309.44" y2="191.6" stroke="#666" stroke-width="0.7"/>
<line x1="316.58" y1="153.3" x2="316.58" y2="178.8" stroke="#666" stroke-width="0.7"/>
<line x1="315.68" y1="153.3" x2="317.48" y2="153.3" stroke="#666" stroke-width="0.7"/>
<line x1="315.68" y1="178.8" x2="317.48" y2="178.8" stroke="#666" stroke-width="0.7"/>
<line x1="324.62" y1="151" x2="324.62" y2="171.3" stroke="#666" stroke-width="0.7"/>
<line x1="323.72" y1="151" x2="325.52" y2="151" stroke="#666" stroke-width="0.7"/>
<line x1="323.72" y1="171.3" x2="325.52" y2="171.3" stroke="#666" stroke-width="0.7"/>
<line x1="332.66" y1="150.3" x2="332.66" y2="163.8" stroke="#666" stroke-width="0.7"/>
<line x1="331.76" y1="150.3" x2="333.56" y2="150.3" stroke="#666" stroke-width="0.7"/>
<line x1="331.76" y1="163.8" x2="333.56" y2="163.8" stroke="#666" stroke-width="0.7"/>
<line x1="340.7" y1="145" x2="340.7" y2="156.3" stroke="#666" stroke-width="0.7"/>
<line x1="339.8" y1="145" x2="341.6" y2="145" stroke="#666" stroke-width="0.7"/>
<line x1="339.8" y1="156.3" x2="341.6" y2="156.3" stroke="#666" stroke-width="0.7"/>
<line x1="348.74" y1="143" x2="348.74" y2="151" stroke="#666" stroke-width="0.7"/>
<line x1="347.84" y1="143" x2="349.64" y2="143" stroke="#666" stroke-width="0.7"/>
<line x1="347.84" y1="151" x2="349.64" y2="151" stroke="#666" stroke-width="0.7"/>
<line x1="356.78" y1="145.5" x2="356.78" y2="151.5" stroke="#666" stroke-width="0.7"/>
<line x1="355.88" y1="145.5" x2="357.68" y2="145.5" stroke="#666" stroke-width="0.7"/>
<line x1="355.88" y1="151.5" x2="357.68" y2="151.5" stroke="#666" stroke-width="0.7"/>
<circle cx="300.5" cy="189.3" r="1.35" fill="#fff" stroke="#222" stroke-width="0.7"/>
<circle cx="308.54" cy="180" r="1.35" fill="#fff" stroke="#222" stroke-width="0.7"/>
<circle cx="316.58" cy="170.2" r="1.35" fill="#fff" stroke="#222" stroke-width="0.7"/>
<circle cx="324.62" cy="165.3" r="1.35" fill="#fff" stroke="#222" stroke-width="0.7"/>
<circle cx="332.66" cy="158.5" r="1.35" fill="#fff" stroke="#222" stroke-width="0.7"/>
<circle cx="340.7" cy="155.5" r="1.35" fill="#fff" stroke="#222" stroke-width="0.7"/>
<circle cx="348.74" cy="145" r="1.35" fill="#fff" stroke="#222" stroke-width="0.7"/>
<circle cx="356.78" cy="144.6" r="1.35" fill="#fff" stroke="#222" stroke-width="0.7"/>
<circle cx="364.82" cy="142.8" r="1.35" fill="#fff" stroke="#222" stroke-width="0.7"/>
<circle cx="372.86" cy="139.4" r="1.35" fill="#fff" stroke="#222" stroke-width="0.7"/>
<circle cx="380.9" cy="139.1" r="1.35" fill="#fff" stroke="#222" stroke-width="0.7"/>
<circle cx="300.5" cy="191.6" r="1.65" fill="#000"/>
<circle cx="308.54" cy="175.3" r="1.65" fill="#000"/>
<circle cx="316.58" cy="163" r="1.65" fill="#000"/>
<circle cx="324.62" cy="158.5" r="1.65" fill="#000"/>
<circle cx="332.66" cy="157" r="1.65" fill="#000"/>
<circle cx="340.7" cy="151" r="1.65" fill="#000"/>
<circle cx="348.74" cy="149" r="1.65" fill="#000"/>
<circle cx="356.78" cy="148.8" r="1.65" fill="#000"/>
<circle cx="364.82" cy="139.8" r="1.65" fill="#000"/>
<circle cx="372.86" cy="139.2" r="1.65" fill="#000"/>
<circle cx="380.9" cy="139.1" r="1.65" fill="#000"/>
<line x1="332.1" y1="177.5" x2="348.8" y2="177.5" stroke="#222" stroke-width="0.9"/>
<circle cx="340.45" cy="177.5" r="1.4" fill="#fff" stroke="#111" stroke-width="0.8"/>
<line x1="332.1" y1="185.8" x2="348.8" y2="185.8" stroke="#222" stroke-width="0.9"/>
<circle cx="340.45" cy="185.8" r="1.5" fill="#000"/>
<line x1="430.9" y1="127" x2="519.4" y2="127" stroke="#666" stroke-width="1"/>
<line x1="430.9" y1="127" x2="430.9" y2="125.4" stroke="#666" stroke-width="1"/>
<line x1="471.1" y1="127" x2="471.1" y2="125.4" stroke="#666" stroke-width="1"/>
<line x1="511.3" y1="127" x2="511.3" y2="125.4" stroke="#666" stroke-width="1"/>
<line x1="451" y1="127" x2="451" y2="125.8" stroke="#666" stroke-width="1"/>
<line x1="491.2" y1="127" x2="491.2" y2="125.8" stroke="#666" stroke-width="1"/>
<line x1="519.4" y1="126.5" x2="519.4" y2="219.68" stroke="#666" stroke-width="1"/>
<line x1="519.4" y1="140.2" x2="520.6" y2="140.2" stroke="#666" stroke-width="1"/>
<line x1="519.4" y1="166.42" x2="520.6" y2="166.42" stroke="#666" stroke-width="1"/>
<line x1="519.4" y1="192.65" x2="520.6" y2="192.65" stroke="#666" stroke-width="1"/>
<line x1="519.4" y1="218.88" x2="520.6" y2="218.88" stroke="#666" stroke-width="1"/>
<text x="419.47" y="124.2" font-size="9.17" textLength="19.51" lengthAdjust="spacingAndGlyphs">-200</text>
<text x="459.9" y="124.2" font-size="9.17" textLength="17.95" lengthAdjust="spacingAndGlyphs">-100</text>
<text x="507.68" y="124.2" font-size="9.6" textLength="6.05" lengthAdjust="spacingAndGlyphs">0</text>
<text x="419.16" y="137.11" font-size="8.16" textLength="34.73" lengthAdjust="spacingAndGlyphs" style="stroke-width:0.3px">Vm(mV)</text>
<text x="523.72" y="143.3" font-size="9.45" textLength="5.47" lengthAdjust="spacingAndGlyphs">0</text>
<text x="520.08" y="169.5" font-size="9.17" textLength="13.8" lengthAdjust="spacingAndGlyphs">-50</text>
<text x="520.08" y="195.8" font-size="9.17" textLength="18.78" lengthAdjust="spacingAndGlyphs">-100</text>
<text x="520.08" y="221.8" font-size="9.17" textLength="18.78" lengthAdjust="spacingAndGlyphs">-150</text>
<text x="485.84" y="178.9" font-size="7.31" textLength="25.43" lengthAdjust="spacingAndGlyphs" style="stroke-width:0.3px">control</text>
<text x="486.19" y="189.5" font-size="8.29" textLength="14.3" lengthAdjust="spacingAndGlyphs" style="stroke-width:0.3px">ATP</text>
<text x="452.08" y="211.1" font-size="9.74" font-style="italic" textLength="30.26" lengthAdjust="spacingAndGlyphs">gpa1-2</text>
<text transform="translate(513,219) rotate(-90)" x="-0.84" y="0" font-size="9" textLength="19.7" lengthAdjust="spacingAndGlyphs">I(pA)</text>
<path d="M430.9,193.7 L438.94,183.3 L446.98,166 L455.02,158.8 L463.06,147.9 L471.1,145.5 L479.14,141.8 L487.18,142.5 L495.22,142.5 L503.26,140.8 L511.3,140.5" fill="none" stroke="#222" stroke-width="0.8"/>
<path d="M430.9,190.5 L438.94,176.8 L446.98,172.8 L455.02,160.7 L463.06,155.9 L471.1,147.6 L479.14,145 L487.18,145.5 L495.22,144.8 L503.26,140.7 L511.3,140.7" fill="none" stroke="#222" stroke-width="0.8"/>
<line x1="430.9" y1="178.4" x2="430.9" y2="206.6" stroke="#666" stroke-width="0.7"/>
<line x1="430" y1="178.4" x2="431.8" y2="178.4" stroke="#666" stroke-width="0.7"/>
<line x1="430" y1="206.6" x2="431.8" y2="206.6" stroke="#666" stroke-width="0.7"/>
<line x1="438.94" y1="167.2" x2="438.94" y2="195.3" stroke="#666" stroke-width="0.7"/>
<line x1="438.04" y1="167.2" x2="439.84" y2="167.2" stroke="#666" stroke-width="0.7"/>
<line x1="438.04" y1="195.3" x2="439.84" y2="195.3" stroke="#666" stroke-width="0.7"/>
<line x1="446.98" y1="155.9" x2="446.98" y2="180" stroke="#666" stroke-width="0.7"/>
<line x1="446.08" y1="155.9" x2="447.88" y2="155.9" stroke="#666" stroke-width="0.7"/>
<line x1="446.08" y1="180" x2="447.88" y2="180" stroke="#666" stroke-width="0.7"/>
<line x1="455.02" y1="151" x2="455.02" y2="169.6" stroke="#666" stroke-width="0.7"/>
<line x1="454.12" y1="151" x2="455.92" y2="151" stroke="#666" stroke-width="0.7"/>
<line x1="454.12" y1="169.6" x2="455.92" y2="169.6" stroke="#666" stroke-width="0.7"/>
<line x1="463.06" y1="142.2" x2="463.06" y2="163.2" stroke="#666" stroke-width="0.7"/>
<line x1="462.16" y1="142.2" x2="463.96" y2="142.2" stroke="#666" stroke-width="0.7"/>
<line x1="462.16" y1="163.2" x2="463.96" y2="163.2" stroke="#666" stroke-width="0.7"/>
<line x1="471.1" y1="143" x2="471.1" y2="151" stroke="#666" stroke-width="0.7"/>
<line x1="470.2" y1="143" x2="472" y2="143" stroke="#666" stroke-width="0.7"/>
<line x1="470.2" y1="151" x2="472" y2="151" stroke="#666" stroke-width="0.7"/>
<line x1="479.14" y1="141" x2="479.14" y2="148" stroke="#666" stroke-width="0.7"/>
<line x1="478.24" y1="141" x2="480.04" y2="141" stroke="#666" stroke-width="0.7"/>
<line x1="478.24" y1="148" x2="480.04" y2="148" stroke="#666" stroke-width="0.7"/>
<line x1="487.18" y1="143" x2="487.18" y2="148" stroke="#666" stroke-width="0.7"/>
<line x1="486.28" y1="143" x2="488.08" y2="143" stroke="#666" stroke-width="0.7"/>
<line x1="486.28" y1="148" x2="488.08" y2="148" stroke="#666" stroke-width="0.7"/>
<circle cx="430.9" cy="193.7" r="1.35" fill="#fff" stroke="#222" stroke-width="0.7"/>
<circle cx="438.94" cy="183.3" r="1.35" fill="#fff" stroke="#222" stroke-width="0.7"/>
<circle cx="446.98" cy="166" r="1.35" fill="#fff" stroke="#222" stroke-width="0.7"/>
<circle cx="455.02" cy="158.8" r="1.35" fill="#fff" stroke="#222" stroke-width="0.7"/>
<circle cx="463.06" cy="147.9" r="1.35" fill="#fff" stroke="#222" stroke-width="0.7"/>
<circle cx="471.1" cy="145.5" r="1.35" fill="#fff" stroke="#222" stroke-width="0.7"/>
<circle cx="479.14" cy="141.8" r="1.35" fill="#fff" stroke="#222" stroke-width="0.7"/>
<circle cx="487.18" cy="142.5" r="1.35" fill="#fff" stroke="#222" stroke-width="0.7"/>
<circle cx="495.22" cy="142.5" r="1.35" fill="#fff" stroke="#222" stroke-width="0.7"/>
<circle cx="503.26" cy="140.8" r="1.35" fill="#fff" stroke="#222" stroke-width="0.7"/>
<circle cx="511.3" cy="140.5" r="1.35" fill="#fff" stroke="#222" stroke-width="0.7"/>
<circle cx="430.9" cy="190.5" r="1.65" fill="#000"/>
<circle cx="438.94" cy="176.8" r="1.65" fill="#000"/>
<circle cx="446.98" cy="172.8" r="1.65" fill="#000"/>
<circle cx="455.02" cy="160.7" r="1.65" fill="#000"/>
<circle cx="463.06" cy="155.9" r="1.65" fill="#000"/>
<circle cx="471.1" cy="147.6" r="1.65" fill="#000"/>
<circle cx="479.14" cy="145" r="1.65" fill="#000"/>
<circle cx="487.18" cy="145.5" r="1.65" fill="#000"/>
<circle cx="495.22" cy="144.8" r="1.65" fill="#000"/>
<circle cx="503.26" cy="140.7" r="1.65" fill="#000"/>
<circle cx="511.3" cy="140.7" r="1.65" fill="#000"/>
<line x1="466.6" y1="177.4" x2="482.6" y2="177.4" stroke="#222" stroke-width="0.9"/>
<circle cx="474.6" cy="177.4" r="1.4" fill="#fff" stroke="#111" stroke-width="0.8"/>
<line x1="466.6" y1="186.3" x2="482.6" y2="186.3" stroke="#222" stroke-width="0.9"/>
<circle cx="474.6" cy="186.3" r="1.5" fill="#000"/>
<line x1="310.1" y1="365.6" x2="398.6" y2="365.6" stroke="#666" stroke-width="1"/>
<line x1="310.1" y1="365.6" x2="310.1" y2="364" stroke="#666" stroke-width="1"/>
<line x1="350" y1="365.6" x2="350" y2="364" stroke="#666" stroke-width="1"/>
<line x1="389.9" y1="365.6" x2="389.9" y2="364" stroke="#666" stroke-width="1"/>
<line x1="330.05" y1="365.6" x2="330.05" y2="364.4" stroke="#666" stroke-width="1"/>
<line x1="369.95" y1="365.6" x2="369.95" y2="364.4" stroke="#666" stroke-width="1"/>
<line x1="398.6" y1="365.1" x2="398.6" y2="457.97" stroke="#666" stroke-width="1"/>
<line x1="398.6" y1="379.7" x2="399.8" y2="379.7" stroke="#666" stroke-width="1"/>
<line x1="398.6" y1="405.52" x2="399.8" y2="405.52" stroke="#666" stroke-width="1"/>
<line x1="398.6" y1="431.35" x2="399.8" y2="431.35" stroke="#666" stroke-width="1"/>
<line x1="398.6" y1="457.17" x2="399.8" y2="457.17" stroke="#666" stroke-width="1"/>
<text x="298.86" y="362.6" font-size="9.17" textLength="19.62" lengthAdjust="spacingAndGlyphs">-200</text>
<text x="339.5" y="362.8" font-size="9.17" textLength="18.16" lengthAdjust="spacingAndGlyphs">-100</text>
<text x="386.61" y="362.8" font-size="9.17" textLength="5.58" lengthAdjust="spacingAndGlyphs">0</text>
<text x="292.86" y="375.79" font-size="8.26" textLength="34.32" lengthAdjust="spacingAndGlyphs" style="stroke-width:0.3px">Vm(mV)</text>
<text x="402.32" y="383" font-size="9.45" textLength="5.47" lengthAdjust="spacingAndGlyphs">0</text>
<text x="398.5" y="409" font-size="9.17" textLength="13.16" lengthAdjust="spacingAndGlyphs">-50</text>
<text x="398.46" y="434.6" font-size="9.17" textLength="19.72" lengthAdjust="spacingAndGlyphs">-100</text>
<text x="398.46" y="460.7" font-size="9.17" textLength="19.72" lengthAdjust="spacingAndGlyphs">-150</text>
<text x="358.54" y="419.2" font-size="8" textLength="25.32" lengthAdjust="spacingAndGlyphs" style="stroke-width:0.3px">control</text>
<text x="358.88" y="429.5" font-size="7.99" textLength="15.74" lengthAdjust="spacingAndGlyphs" style="stroke-width:0.3px">ATP</text>
<text x="329.78" y="450.9" font-size="9.88" font-style="italic" textLength="30.45" lengthAdjust="spacingAndGlyphs">gpa1-1</text>
<text transform="translate(391.6,455.3) rotate(-90)" x="-0.83" y="0" font-size="9" textLength="19.6" lengthAdjust="spacingAndGlyphs">I(pA)</text>
<path d="M310.1,421.1 L318.08,406 L326.06,395.2 L334.04,386.2 L342.02,381.7 L350,380.8 L357.98,380.2 L365.96,379.5 L373.94,379.5 L381.92,379.5 L389.9,379.5" fill="none" stroke="#222" stroke-width="0.8"/>
<path d="M310.1,415.5 L318.08,402 L326.06,395.2 L334.04,389.5 L342.02,383.5 L350,382.8 L357.98,380.5 L365.96,379.5 L373.94,379.5 L381.92,379.5 L389.9,379.5" fill="none" stroke="#222" stroke-width="0.8"/>
<line x1="310.1" y1="410.3" x2="310.1" y2="428.3" stroke="#666" stroke-width="0.7"/>
<line x1="309.2" y1="410.3" x2="311" y2="410.3" stroke="#666" stroke-width="0.7"/>
<line x1="309.2" y1="428.3" x2="311" y2="428.3" stroke="#666" stroke-width="0.7"/>
<line x1="318.08" y1="395.5" x2="318.08" y2="413.6" stroke="#666" stroke-width="0.7"/>
<line x1="317.18" y1="395.5" x2="318.98" y2="395.5" stroke="#666" stroke-width="0.7"/>
<line x1="317.18" y1="413.6" x2="318.98" y2="413.6" stroke="#666" stroke-width="0.7"/>
<line x1="326.06" y1="388.8" x2="326.06" y2="402.3" stroke="#666" stroke-width="0.7"/>
<line x1="325.16" y1="388.8" x2="326.96" y2="388.8" stroke="#666" stroke-width="0.7"/>
<line x1="325.16" y1="402.3" x2="326.96" y2="402.3" stroke="#666" stroke-width="0.7"/>
<line x1="334.04" y1="381.3" x2="334.04" y2="394" stroke="#666" stroke-width="0.7"/>
<line x1="333.14" y1="381.3" x2="334.94" y2="381.3" stroke="#666" stroke-width="0.7"/>
<line x1="333.14" y1="394" x2="334.94" y2="394" stroke="#666" stroke-width="0.7"/>
<line x1="342.02" y1="378" x2="342.02" y2="387" stroke="#666" stroke-width="0.7"/>
<line x1="341.12" y1="378" x2="342.92" y2="378" stroke="#666" stroke-width="0.7"/>
<line x1="341.12" y1="387" x2="342.92" y2="387" stroke="#666" stroke-width="0.7"/>
<line x1="350" y1="378" x2="350" y2="386" stroke="#666" stroke-width="0.7"/>
<line x1="349.1" y1="378" x2="350.9" y2="378" stroke="#666" stroke-width="0.7"/>
<line x1="349.1" y1="386" x2="350.9" y2="386" stroke="#666" stroke-width="0.7"/>
<circle cx="310.1" cy="421.1" r="1.35" fill="#fff" stroke="#222" stroke-width="0.7"/>
<circle cx="318.08" cy="406" r="1.35" fill="#fff" stroke="#222" stroke-width="0.7"/>
<circle cx="326.06" cy="395.2" r="1.35" fill="#fff" stroke="#222" stroke-width="0.7"/>
<circle cx="334.04" cy="386.2" r="1.35" fill="#fff" stroke="#222" stroke-width="0.7"/>
<circle cx="342.02" cy="381.7" r="1.35" fill="#fff" stroke="#222" stroke-width="0.7"/>
<circle cx="350" cy="380.8" r="1.35" fill="#fff" stroke="#222" stroke-width="0.7"/>
<circle cx="357.98" cy="380.2" r="1.35" fill="#fff" stroke="#222" stroke-width="0.7"/>
<circle cx="365.96" cy="379.5" r="1.35" fill="#fff" stroke="#222" stroke-width="0.7"/>
<circle cx="373.94" cy="379.5" r="1.35" fill="#fff" stroke="#222" stroke-width="0.7"/>
<circle cx="381.92" cy="379.5" r="1.35" fill="#fff" stroke="#222" stroke-width="0.7"/>
<circle cx="389.9" cy="379.5" r="1.35" fill="#fff" stroke="#222" stroke-width="0.7"/>
<circle cx="310.1" cy="415.5" r="1.65" fill="#000"/>
<circle cx="318.08" cy="402" r="1.65" fill="#000"/>
<circle cx="326.06" cy="395.2" r="1.65" fill="#000"/>
<circle cx="334.04" cy="389.5" r="1.65" fill="#000"/>
<circle cx="342.02" cy="383.5" r="1.65" fill="#000"/>
<circle cx="350" cy="382.8" r="1.65" fill="#000"/>
<circle cx="357.98" cy="380.5" r="1.65" fill="#000"/>
<circle cx="365.96" cy="379.5" r="1.65" fill="#000"/>
<circle cx="373.94" cy="379.5" r="1.65" fill="#000"/>
<circle cx="381.92" cy="379.5" r="1.65" fill="#000"/>
<circle cx="389.9" cy="379.5" r="1.65" fill="#000"/>
<line x1="338.8" y1="417.6" x2="355.3" y2="417.6" stroke="#222" stroke-width="0.9"/>
<circle cx="347.05" cy="417.6" r="1.4" fill="#fff" stroke="#111" stroke-width="0.8"/>
<line x1="338.8" y1="426.4" x2="355.3" y2="426.4" stroke="#222" stroke-width="0.9"/>
<circle cx="347.05" cy="426.4" r="1.5" fill="#000"/>
<line x1="439.2" y1="367" x2="527.8" y2="367" stroke="#666" stroke-width="1"/>
<line x1="439.2" y1="367" x2="439.2" y2="365.4" stroke="#666" stroke-width="1"/>
<line x1="479.3" y1="367" x2="479.3" y2="365.4" stroke="#666" stroke-width="1"/>
<line x1="519.4" y1="367" x2="519.4" y2="365.4" stroke="#666" stroke-width="1"/>
<line x1="459.25" y1="367" x2="459.25" y2="365.8" stroke="#666" stroke-width="1"/>
<line x1="499.35" y1="367" x2="499.35" y2="365.8" stroke="#666" stroke-width="1"/>
<line x1="527.8" y1="366.5" x2="527.8" y2="458.48" stroke="#666" stroke-width="1"/>
<line x1="527.8" y1="380.8" x2="529" y2="380.8" stroke="#666" stroke-width="1"/>
<line x1="527.8" y1="406.43" x2="529" y2="406.43" stroke="#666" stroke-width="1"/>
<line x1="527.8" y1="432.05" x2="529" y2="432.05" stroke="#666" stroke-width="1"/>
<line x1="527.8" y1="457.68" x2="529" y2="457.68" stroke="#666" stroke-width="1"/>
<text x="427.36" y="364.3" font-size="9.31" textLength="20.04" lengthAdjust="spacingAndGlyphs">-200</text>
<text x="468.4" y="364.3" font-size="9.31" textLength="18.05" lengthAdjust="spacingAndGlyphs">-100</text>
<text x="515.68" y="364.3" font-size="9.02" textLength="6.05" lengthAdjust="spacingAndGlyphs">0</text>
<text x="425.66" y="377.63" font-size="8.05" textLength="35.24" lengthAdjust="spacingAndGlyphs" style="stroke-width:0.3px">Vm(mV)</text>
<text x="531.37" y="384.1" font-size="9.45" textLength="6.17" lengthAdjust="spacingAndGlyphs">0</text>
<text x="528.08" y="409.5" font-size="9.31" textLength="13.58" lengthAdjust="spacingAndGlyphs">-50</text>
<text x="528.09" y="435.8" font-size="9.17" textLength="18.68" lengthAdjust="spacingAndGlyphs">-100</text>
<text x="528.09" y="462" font-size="9.17" textLength="18.68" lengthAdjust="spacingAndGlyphs">-150</text>
<text x="492.64" y="418.9" font-size="7.31" textLength="25.22" lengthAdjust="spacingAndGlyphs" style="stroke-width:0.3px">control</text>
<text x="492.98" y="429.5" font-size="7.99" textLength="15.54" lengthAdjust="spacingAndGlyphs" style="stroke-width:0.3px">ATP</text>
<text x="460.78" y="451.2" font-size="9.74" font-style="italic" textLength="29.76" lengthAdjust="spacingAndGlyphs">gpa1-2</text>
<text transform="translate(521.2,458.9) rotate(-90)" x="-0.83" y="0" font-size="9" textLength="19.6" lengthAdjust="spacingAndGlyphs">I(pA)</text>
<path d="M439.2,418.3 L447.22,401 L455.24,389.8 L463.26,384.2 L471.28,381.5 L479.3,381.2 L487.32,381 L495.34,380.8 L503.36,380.8 L511.38,380.8 L519.4,380.8" fill="none" stroke="#222" stroke-width="0.8"/>
<path d="M439.2,415.8 L447.22,398.8 L455.24,387.3 L463.26,383.8 L471.28,381.5 L479.3,381.5 L487.32,381.3 L495.34,380.8 L503.36,380.8 L511.38,380.8 L519.4,380.8" fill="none" stroke="#222" stroke-width="0.8"/>
<line x1="439.2" y1="409.3" x2="439.2" y2="424" stroke="#666" stroke-width="0.7"/>
<line x1="438.3" y1="409.3" x2="440.1" y2="409.3" stroke="#666" stroke-width="0.7"/>
<line x1="438.3" y1="424" x2="440.1" y2="424" stroke="#666" stroke-width="0.7"/>
<line x1="447.22" y1="394.3" x2="447.22" y2="407.1" stroke="#666" stroke-width="0.7"/>
<line x1="446.32" y1="394.3" x2="448.12" y2="394.3" stroke="#666" stroke-width="0.7"/>
<line x1="446.32" y1="407.1" x2="448.12" y2="407.1" stroke="#666" stroke-width="0.7"/>
<line x1="455.24" y1="384.2" x2="455.24" y2="393.6" stroke="#666" stroke-width="0.7"/>
<line x1="454.34" y1="384.2" x2="456.14" y2="384.2" stroke="#666" stroke-width="0.7"/>
<line x1="454.34" y1="393.6" x2="456.14" y2="393.6" stroke="#666" stroke-width="0.7"/>
<line x1="463.26" y1="380" x2="463.26" y2="388" stroke="#666" stroke-width="0.7"/>
<line x1="462.36" y1="380" x2="464.16" y2="380" stroke="#666" stroke-width="0.7"/>
<line x1="462.36" y1="388" x2="464.16" y2="388" stroke="#666" stroke-width="0.7"/>
<circle cx="439.2" cy="418.3" r="1.35" fill="#fff" stroke="#222" stroke-width="0.7"/>
<circle cx="447.22" cy="401" r="1.35" fill="#fff" stroke="#222" stroke-width="0.7"/>
<circle cx="455.24" cy="389.8" r="1.35" fill="#fff" stroke="#222" stroke-width="0.7"/>
<circle cx="463.26" cy="384.2" r="1.35" fill="#fff" stroke="#222" stroke-width="0.7"/>
<circle cx="471.28" cy="381.5" r="1.35" fill="#fff" stroke="#222" stroke-width="0.7"/>
<circle cx="479.3" cy="381.2" r="1.35" fill="#fff" stroke="#222" stroke-width="0.7"/>
<circle cx="487.32" cy="381" r="1.35" fill="#fff" stroke="#222" stroke-width="0.7"/>
<circle cx="495.34" cy="380.8" r="1.35" fill="#fff" stroke="#222" stroke-width="0.7"/>
<circle cx="503.36" cy="380.8" r="1.35" fill="#fff" stroke="#222" stroke-width="0.7"/>
<circle cx="511.38" cy="380.8" r="1.35" fill="#fff" stroke="#222" stroke-width="0.7"/>
<circle cx="519.4" cy="380.8" r="1.35" fill="#fff" stroke="#222" stroke-width="0.7"/>
<circle cx="439.2" cy="415.8" r="1.65" fill="#000"/>
<circle cx="447.22" cy="398.8" r="1.65" fill="#000"/>
<circle cx="455.24" cy="387.3" r="1.65" fill="#000"/>
<circle cx="463.26" cy="383.8" r="1.65" fill="#000"/>
<circle cx="471.28" cy="381.5" r="1.65" fill="#000"/>
<circle cx="479.3" cy="381.5" r="1.65" fill="#000"/>
<circle cx="487.32" cy="381.3" r="1.65" fill="#000"/>
<circle cx="495.34" cy="380.8" r="1.65" fill="#000"/>
<circle cx="503.36" cy="380.8" r="1.65" fill="#000"/>
<circle cx="511.38" cy="380.8" r="1.65" fill="#000"/>
<circle cx="519.4" cy="380.8" r="1.65" fill="#000"/>
<line x1="472.9" y1="417.2" x2="488.9" y2="417.2" stroke="#222" stroke-width="0.9"/>
<circle cx="480.9" cy="417.2" r="1.4" fill="#fff" stroke="#111" stroke-width="0.8"/>
<line x1="472.9" y1="426.2" x2="488.9" y2="426.2" stroke="#222" stroke-width="0.9"/>
<circle cx="480.9" cy="426.2" r="1.5" fill="#000"/>
<text x="268.75" y="123" font-size="11.2" font-weight="bold" textLength="8.09" lengthAdjust="spacingAndGlyphs">D</text>
<text x="279.15" y="361.5" font-size="11.2" font-weight="bold" textLength="8.09" lengthAdjust="spacingAndGlyphs">H</text>
</svg>
</body></html>
